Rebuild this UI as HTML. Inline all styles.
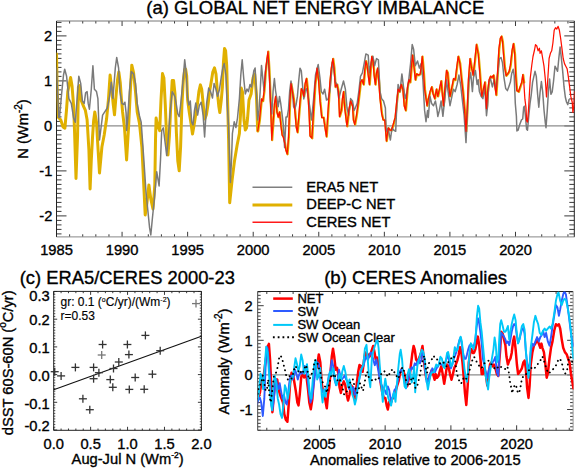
<!DOCTYPE html>
<html><head><meta charset="utf-8"><style>
html,body{margin:0;padding:0;background:#fff;}
svg{display:block;}
text{font-family:"Liberation Sans",sans-serif;fill:#000;stroke:#000;stroke-width:0.35px;}
</style></head><body>
<svg width="575" height="468" viewBox="0 0 575 468">
<rect width="575" height="468" fill="#fff"/>
<defs><clipPath id="clipA"><rect x="56.5" y="21" width="518" height="215.7"/></clipPath><clipPath id="clipB"><rect x="257.8" y="291.5" width="315.7" height="138.6"/></clipPath></defs>
<line x1="56.50" y1="236.80" x2="56.50" y2="231.80" stroke="#3a3a3a" stroke-width="1" />
<line x1="56.50" y1="21.00" x2="56.50" y2="26.00" stroke="#3a3a3a" stroke-width="1" />
<line x1="69.61" y1="236.80" x2="69.61" y2="234.30" stroke="#3a3a3a" stroke-width="1" />
<line x1="69.61" y1="21.00" x2="69.61" y2="23.50" stroke="#3a3a3a" stroke-width="1" />
<line x1="82.73" y1="236.80" x2="82.73" y2="234.30" stroke="#3a3a3a" stroke-width="1" />
<line x1="82.73" y1="21.00" x2="82.73" y2="23.50" stroke="#3a3a3a" stroke-width="1" />
<line x1="95.84" y1="236.80" x2="95.84" y2="234.30" stroke="#3a3a3a" stroke-width="1" />
<line x1="95.84" y1="21.00" x2="95.84" y2="23.50" stroke="#3a3a3a" stroke-width="1" />
<line x1="108.96" y1="236.80" x2="108.96" y2="234.30" stroke="#3a3a3a" stroke-width="1" />
<line x1="108.96" y1="21.00" x2="108.96" y2="23.50" stroke="#3a3a3a" stroke-width="1" />
<line x1="122.07" y1="236.80" x2="122.07" y2="231.80" stroke="#3a3a3a" stroke-width="1" />
<line x1="122.07" y1="21.00" x2="122.07" y2="26.00" stroke="#3a3a3a" stroke-width="1" />
<line x1="135.18" y1="236.80" x2="135.18" y2="234.30" stroke="#3a3a3a" stroke-width="1" />
<line x1="135.18" y1="21.00" x2="135.18" y2="23.50" stroke="#3a3a3a" stroke-width="1" />
<line x1="148.30" y1="236.80" x2="148.30" y2="234.30" stroke="#3a3a3a" stroke-width="1" />
<line x1="148.30" y1="21.00" x2="148.30" y2="23.50" stroke="#3a3a3a" stroke-width="1" />
<line x1="161.41" y1="236.80" x2="161.41" y2="234.30" stroke="#3a3a3a" stroke-width="1" />
<line x1="161.41" y1="21.00" x2="161.41" y2="23.50" stroke="#3a3a3a" stroke-width="1" />
<line x1="174.53" y1="236.80" x2="174.53" y2="234.30" stroke="#3a3a3a" stroke-width="1" />
<line x1="174.53" y1="21.00" x2="174.53" y2="23.50" stroke="#3a3a3a" stroke-width="1" />
<line x1="187.64" y1="236.80" x2="187.64" y2="231.80" stroke="#3a3a3a" stroke-width="1" />
<line x1="187.64" y1="21.00" x2="187.64" y2="26.00" stroke="#3a3a3a" stroke-width="1" />
<line x1="200.75" y1="236.80" x2="200.75" y2="234.30" stroke="#3a3a3a" stroke-width="1" />
<line x1="200.75" y1="21.00" x2="200.75" y2="23.50" stroke="#3a3a3a" stroke-width="1" />
<line x1="213.87" y1="236.80" x2="213.87" y2="234.30" stroke="#3a3a3a" stroke-width="1" />
<line x1="213.87" y1="21.00" x2="213.87" y2="23.50" stroke="#3a3a3a" stroke-width="1" />
<line x1="226.98" y1="236.80" x2="226.98" y2="234.30" stroke="#3a3a3a" stroke-width="1" />
<line x1="226.98" y1="21.00" x2="226.98" y2="23.50" stroke="#3a3a3a" stroke-width="1" />
<line x1="240.10" y1="236.80" x2="240.10" y2="234.30" stroke="#3a3a3a" stroke-width="1" />
<line x1="240.10" y1="21.00" x2="240.10" y2="23.50" stroke="#3a3a3a" stroke-width="1" />
<line x1="253.21" y1="236.80" x2="253.21" y2="231.80" stroke="#3a3a3a" stroke-width="1" />
<line x1="253.21" y1="21.00" x2="253.21" y2="26.00" stroke="#3a3a3a" stroke-width="1" />
<line x1="266.32" y1="236.80" x2="266.32" y2="234.30" stroke="#3a3a3a" stroke-width="1" />
<line x1="266.32" y1="21.00" x2="266.32" y2="23.50" stroke="#3a3a3a" stroke-width="1" />
<line x1="279.44" y1="236.80" x2="279.44" y2="234.30" stroke="#3a3a3a" stroke-width="1" />
<line x1="279.44" y1="21.00" x2="279.44" y2="23.50" stroke="#3a3a3a" stroke-width="1" />
<line x1="292.55" y1="236.80" x2="292.55" y2="234.30" stroke="#3a3a3a" stroke-width="1" />
<line x1="292.55" y1="21.00" x2="292.55" y2="23.50" stroke="#3a3a3a" stroke-width="1" />
<line x1="305.67" y1="236.80" x2="305.67" y2="234.30" stroke="#3a3a3a" stroke-width="1" />
<line x1="305.67" y1="21.00" x2="305.67" y2="23.50" stroke="#3a3a3a" stroke-width="1" />
<line x1="318.78" y1="236.80" x2="318.78" y2="231.80" stroke="#3a3a3a" stroke-width="1" />
<line x1="318.78" y1="21.00" x2="318.78" y2="26.00" stroke="#3a3a3a" stroke-width="1" />
<line x1="331.89" y1="236.80" x2="331.89" y2="234.30" stroke="#3a3a3a" stroke-width="1" />
<line x1="331.89" y1="21.00" x2="331.89" y2="23.50" stroke="#3a3a3a" stroke-width="1" />
<line x1="345.01" y1="236.80" x2="345.01" y2="234.30" stroke="#3a3a3a" stroke-width="1" />
<line x1="345.01" y1="21.00" x2="345.01" y2="23.50" stroke="#3a3a3a" stroke-width="1" />
<line x1="358.12" y1="236.80" x2="358.12" y2="234.30" stroke="#3a3a3a" stroke-width="1" />
<line x1="358.12" y1="21.00" x2="358.12" y2="23.50" stroke="#3a3a3a" stroke-width="1" />
<line x1="371.24" y1="236.80" x2="371.24" y2="234.30" stroke="#3a3a3a" stroke-width="1" />
<line x1="371.24" y1="21.00" x2="371.24" y2="23.50" stroke="#3a3a3a" stroke-width="1" />
<line x1="384.35" y1="236.80" x2="384.35" y2="231.80" stroke="#3a3a3a" stroke-width="1" />
<line x1="384.35" y1="21.00" x2="384.35" y2="26.00" stroke="#3a3a3a" stroke-width="1" />
<line x1="397.46" y1="236.80" x2="397.46" y2="234.30" stroke="#3a3a3a" stroke-width="1" />
<line x1="397.46" y1="21.00" x2="397.46" y2="23.50" stroke="#3a3a3a" stroke-width="1" />
<line x1="410.58" y1="236.80" x2="410.58" y2="234.30" stroke="#3a3a3a" stroke-width="1" />
<line x1="410.58" y1="21.00" x2="410.58" y2="23.50" stroke="#3a3a3a" stroke-width="1" />
<line x1="423.69" y1="236.80" x2="423.69" y2="234.30" stroke="#3a3a3a" stroke-width="1" />
<line x1="423.69" y1="21.00" x2="423.69" y2="23.50" stroke="#3a3a3a" stroke-width="1" />
<line x1="436.81" y1="236.80" x2="436.81" y2="234.30" stroke="#3a3a3a" stroke-width="1" />
<line x1="436.81" y1="21.00" x2="436.81" y2="23.50" stroke="#3a3a3a" stroke-width="1" />
<line x1="449.92" y1="236.80" x2="449.92" y2="231.80" stroke="#3a3a3a" stroke-width="1" />
<line x1="449.92" y1="21.00" x2="449.92" y2="26.00" stroke="#3a3a3a" stroke-width="1" />
<line x1="463.03" y1="236.80" x2="463.03" y2="234.30" stroke="#3a3a3a" stroke-width="1" />
<line x1="463.03" y1="21.00" x2="463.03" y2="23.50" stroke="#3a3a3a" stroke-width="1" />
<line x1="476.15" y1="236.80" x2="476.15" y2="234.30" stroke="#3a3a3a" stroke-width="1" />
<line x1="476.15" y1="21.00" x2="476.15" y2="23.50" stroke="#3a3a3a" stroke-width="1" />
<line x1="489.26" y1="236.80" x2="489.26" y2="234.30" stroke="#3a3a3a" stroke-width="1" />
<line x1="489.26" y1="21.00" x2="489.26" y2="23.50" stroke="#3a3a3a" stroke-width="1" />
<line x1="502.38" y1="236.80" x2="502.38" y2="234.30" stroke="#3a3a3a" stroke-width="1" />
<line x1="502.38" y1="21.00" x2="502.38" y2="23.50" stroke="#3a3a3a" stroke-width="1" />
<line x1="515.49" y1="236.80" x2="515.49" y2="231.80" stroke="#3a3a3a" stroke-width="1" />
<line x1="515.49" y1="21.00" x2="515.49" y2="26.00" stroke="#3a3a3a" stroke-width="1" />
<line x1="528.60" y1="236.80" x2="528.60" y2="234.30" stroke="#3a3a3a" stroke-width="1" />
<line x1="528.60" y1="21.00" x2="528.60" y2="23.50" stroke="#3a3a3a" stroke-width="1" />
<line x1="541.72" y1="236.80" x2="541.72" y2="234.30" stroke="#3a3a3a" stroke-width="1" />
<line x1="541.72" y1="21.00" x2="541.72" y2="23.50" stroke="#3a3a3a" stroke-width="1" />
<line x1="554.83" y1="236.80" x2="554.83" y2="234.30" stroke="#3a3a3a" stroke-width="1" />
<line x1="554.83" y1="21.00" x2="554.83" y2="23.50" stroke="#3a3a3a" stroke-width="1" />
<line x1="567.95" y1="236.80" x2="567.95" y2="234.30" stroke="#3a3a3a" stroke-width="1" />
<line x1="567.95" y1="21.00" x2="567.95" y2="23.50" stroke="#3a3a3a" stroke-width="1" />
<line x1="56.50" y1="233.90" x2="61.50" y2="233.90" stroke="#3a3a3a" stroke-width="1" />
<line x1="574.30" y1="233.90" x2="569.30" y2="233.90" stroke="#3a3a3a" stroke-width="1" />
<line x1="56.50" y1="229.40" x2="61.50" y2="229.40" stroke="#3a3a3a" stroke-width="1" />
<line x1="574.30" y1="229.40" x2="569.30" y2="229.40" stroke="#3a3a3a" stroke-width="1" />
<line x1="56.50" y1="224.90" x2="61.50" y2="224.90" stroke="#3a3a3a" stroke-width="1" />
<line x1="574.30" y1="224.90" x2="569.30" y2="224.90" stroke="#3a3a3a" stroke-width="1" />
<line x1="56.50" y1="220.40" x2="61.50" y2="220.40" stroke="#3a3a3a" stroke-width="1" />
<line x1="574.30" y1="220.40" x2="569.30" y2="220.40" stroke="#3a3a3a" stroke-width="1" />
<line x1="56.50" y1="215.90" x2="66.50" y2="215.90" stroke="#3a3a3a" stroke-width="1" />
<line x1="574.30" y1="215.90" x2="564.30" y2="215.90" stroke="#3a3a3a" stroke-width="1" />
<line x1="56.50" y1="211.40" x2="61.50" y2="211.40" stroke="#3a3a3a" stroke-width="1" />
<line x1="574.30" y1="211.40" x2="569.30" y2="211.40" stroke="#3a3a3a" stroke-width="1" />
<line x1="56.50" y1="206.90" x2="61.50" y2="206.90" stroke="#3a3a3a" stroke-width="1" />
<line x1="574.30" y1="206.90" x2="569.30" y2="206.90" stroke="#3a3a3a" stroke-width="1" />
<line x1="56.50" y1="202.40" x2="61.50" y2="202.40" stroke="#3a3a3a" stroke-width="1" />
<line x1="574.30" y1="202.40" x2="569.30" y2="202.40" stroke="#3a3a3a" stroke-width="1" />
<line x1="56.50" y1="197.90" x2="61.50" y2="197.90" stroke="#3a3a3a" stroke-width="1" />
<line x1="574.30" y1="197.90" x2="569.30" y2="197.90" stroke="#3a3a3a" stroke-width="1" />
<line x1="56.50" y1="193.40" x2="61.50" y2="193.40" stroke="#3a3a3a" stroke-width="1" />
<line x1="574.30" y1="193.40" x2="569.30" y2="193.40" stroke="#3a3a3a" stroke-width="1" />
<line x1="56.50" y1="188.90" x2="61.50" y2="188.90" stroke="#3a3a3a" stroke-width="1" />
<line x1="574.30" y1="188.90" x2="569.30" y2="188.90" stroke="#3a3a3a" stroke-width="1" />
<line x1="56.50" y1="184.40" x2="61.50" y2="184.40" stroke="#3a3a3a" stroke-width="1" />
<line x1="574.30" y1="184.40" x2="569.30" y2="184.40" stroke="#3a3a3a" stroke-width="1" />
<line x1="56.50" y1="179.90" x2="61.50" y2="179.90" stroke="#3a3a3a" stroke-width="1" />
<line x1="574.30" y1="179.90" x2="569.30" y2="179.90" stroke="#3a3a3a" stroke-width="1" />
<line x1="56.50" y1="175.40" x2="61.50" y2="175.40" stroke="#3a3a3a" stroke-width="1" />
<line x1="574.30" y1="175.40" x2="569.30" y2="175.40" stroke="#3a3a3a" stroke-width="1" />
<line x1="56.50" y1="170.90" x2="66.50" y2="170.90" stroke="#3a3a3a" stroke-width="1" />
<line x1="574.30" y1="170.90" x2="564.30" y2="170.90" stroke="#3a3a3a" stroke-width="1" />
<line x1="56.50" y1="166.40" x2="61.50" y2="166.40" stroke="#3a3a3a" stroke-width="1" />
<line x1="574.30" y1="166.40" x2="569.30" y2="166.40" stroke="#3a3a3a" stroke-width="1" />
<line x1="56.50" y1="161.90" x2="61.50" y2="161.90" stroke="#3a3a3a" stroke-width="1" />
<line x1="574.30" y1="161.90" x2="569.30" y2="161.90" stroke="#3a3a3a" stroke-width="1" />
<line x1="56.50" y1="157.40" x2="61.50" y2="157.40" stroke="#3a3a3a" stroke-width="1" />
<line x1="574.30" y1="157.40" x2="569.30" y2="157.40" stroke="#3a3a3a" stroke-width="1" />
<line x1="56.50" y1="152.90" x2="61.50" y2="152.90" stroke="#3a3a3a" stroke-width="1" />
<line x1="574.30" y1="152.90" x2="569.30" y2="152.90" stroke="#3a3a3a" stroke-width="1" />
<line x1="56.50" y1="148.40" x2="61.50" y2="148.40" stroke="#3a3a3a" stroke-width="1" />
<line x1="574.30" y1="148.40" x2="569.30" y2="148.40" stroke="#3a3a3a" stroke-width="1" />
<line x1="56.50" y1="143.90" x2="61.50" y2="143.90" stroke="#3a3a3a" stroke-width="1" />
<line x1="574.30" y1="143.90" x2="569.30" y2="143.90" stroke="#3a3a3a" stroke-width="1" />
<line x1="56.50" y1="139.40" x2="61.50" y2="139.40" stroke="#3a3a3a" stroke-width="1" />
<line x1="574.30" y1="139.40" x2="569.30" y2="139.40" stroke="#3a3a3a" stroke-width="1" />
<line x1="56.50" y1="134.90" x2="61.50" y2="134.90" stroke="#3a3a3a" stroke-width="1" />
<line x1="574.30" y1="134.90" x2="569.30" y2="134.90" stroke="#3a3a3a" stroke-width="1" />
<line x1="56.50" y1="130.40" x2="61.50" y2="130.40" stroke="#3a3a3a" stroke-width="1" />
<line x1="574.30" y1="130.40" x2="569.30" y2="130.40" stroke="#3a3a3a" stroke-width="1" />
<line x1="56.50" y1="125.90" x2="66.50" y2="125.90" stroke="#3a3a3a" stroke-width="1" />
<line x1="574.30" y1="125.90" x2="564.30" y2="125.90" stroke="#3a3a3a" stroke-width="1" />
<line x1="56.50" y1="121.40" x2="61.50" y2="121.40" stroke="#3a3a3a" stroke-width="1" />
<line x1="574.30" y1="121.40" x2="569.30" y2="121.40" stroke="#3a3a3a" stroke-width="1" />
<line x1="56.50" y1="116.90" x2="61.50" y2="116.90" stroke="#3a3a3a" stroke-width="1" />
<line x1="574.30" y1="116.90" x2="569.30" y2="116.90" stroke="#3a3a3a" stroke-width="1" />
<line x1="56.50" y1="112.40" x2="61.50" y2="112.40" stroke="#3a3a3a" stroke-width="1" />
<line x1="574.30" y1="112.40" x2="569.30" y2="112.40" stroke="#3a3a3a" stroke-width="1" />
<line x1="56.50" y1="107.90" x2="61.50" y2="107.90" stroke="#3a3a3a" stroke-width="1" />
<line x1="574.30" y1="107.90" x2="569.30" y2="107.90" stroke="#3a3a3a" stroke-width="1" />
<line x1="56.50" y1="103.40" x2="61.50" y2="103.40" stroke="#3a3a3a" stroke-width="1" />
<line x1="574.30" y1="103.40" x2="569.30" y2="103.40" stroke="#3a3a3a" stroke-width="1" />
<line x1="56.50" y1="98.90" x2="61.50" y2="98.90" stroke="#3a3a3a" stroke-width="1" />
<line x1="574.30" y1="98.90" x2="569.30" y2="98.90" stroke="#3a3a3a" stroke-width="1" />
<line x1="56.50" y1="94.40" x2="61.50" y2="94.40" stroke="#3a3a3a" stroke-width="1" />
<line x1="574.30" y1="94.40" x2="569.30" y2="94.40" stroke="#3a3a3a" stroke-width="1" />
<line x1="56.50" y1="89.90" x2="61.50" y2="89.90" stroke="#3a3a3a" stroke-width="1" />
<line x1="574.30" y1="89.90" x2="569.30" y2="89.90" stroke="#3a3a3a" stroke-width="1" />
<line x1="56.50" y1="85.40" x2="61.50" y2="85.40" stroke="#3a3a3a" stroke-width="1" />
<line x1="574.30" y1="85.40" x2="569.30" y2="85.40" stroke="#3a3a3a" stroke-width="1" />
<line x1="56.50" y1="80.90" x2="66.50" y2="80.90" stroke="#3a3a3a" stroke-width="1" />
<line x1="574.30" y1="80.90" x2="564.30" y2="80.90" stroke="#3a3a3a" stroke-width="1" />
<line x1="56.50" y1="76.40" x2="61.50" y2="76.40" stroke="#3a3a3a" stroke-width="1" />
<line x1="574.30" y1="76.40" x2="569.30" y2="76.40" stroke="#3a3a3a" stroke-width="1" />
<line x1="56.50" y1="71.90" x2="61.50" y2="71.90" stroke="#3a3a3a" stroke-width="1" />
<line x1="574.30" y1="71.90" x2="569.30" y2="71.90" stroke="#3a3a3a" stroke-width="1" />
<line x1="56.50" y1="67.40" x2="61.50" y2="67.40" stroke="#3a3a3a" stroke-width="1" />
<line x1="574.30" y1="67.40" x2="569.30" y2="67.40" stroke="#3a3a3a" stroke-width="1" />
<line x1="56.50" y1="62.90" x2="61.50" y2="62.90" stroke="#3a3a3a" stroke-width="1" />
<line x1="574.30" y1="62.90" x2="569.30" y2="62.90" stroke="#3a3a3a" stroke-width="1" />
<line x1="56.50" y1="58.40" x2="61.50" y2="58.40" stroke="#3a3a3a" stroke-width="1" />
<line x1="574.30" y1="58.40" x2="569.30" y2="58.40" stroke="#3a3a3a" stroke-width="1" />
<line x1="56.50" y1="53.90" x2="61.50" y2="53.90" stroke="#3a3a3a" stroke-width="1" />
<line x1="574.30" y1="53.90" x2="569.30" y2="53.90" stroke="#3a3a3a" stroke-width="1" />
<line x1="56.50" y1="49.40" x2="61.50" y2="49.40" stroke="#3a3a3a" stroke-width="1" />
<line x1="574.30" y1="49.40" x2="569.30" y2="49.40" stroke="#3a3a3a" stroke-width="1" />
<line x1="56.50" y1="44.90" x2="61.50" y2="44.90" stroke="#3a3a3a" stroke-width="1" />
<line x1="574.30" y1="44.90" x2="569.30" y2="44.90" stroke="#3a3a3a" stroke-width="1" />
<line x1="56.50" y1="40.40" x2="61.50" y2="40.40" stroke="#3a3a3a" stroke-width="1" />
<line x1="574.30" y1="40.40" x2="569.30" y2="40.40" stroke="#3a3a3a" stroke-width="1" />
<line x1="56.50" y1="35.90" x2="66.50" y2="35.90" stroke="#3a3a3a" stroke-width="1" />
<line x1="574.30" y1="35.90" x2="564.30" y2="35.90" stroke="#3a3a3a" stroke-width="1" />
<line x1="56.50" y1="31.40" x2="61.50" y2="31.40" stroke="#3a3a3a" stroke-width="1" />
<line x1="574.30" y1="31.40" x2="569.30" y2="31.40" stroke="#3a3a3a" stroke-width="1" />
<line x1="56.50" y1="26.90" x2="61.50" y2="26.90" stroke="#3a3a3a" stroke-width="1" />
<line x1="574.30" y1="26.90" x2="569.30" y2="26.90" stroke="#3a3a3a" stroke-width="1" />
<line x1="56.50" y1="22.40" x2="61.50" y2="22.40" stroke="#3a3a3a" stroke-width="1" />
<line x1="574.30" y1="22.40" x2="569.30" y2="22.40" stroke="#3a3a3a" stroke-width="1" />
<line x1="56.50" y1="125.90" x2="574.30" y2="125.90" stroke="#8c8c8c" stroke-width="1.4" />
<line x1="56.50" y1="21.00" x2="574.60" y2="21.00" stroke="#777" stroke-width="1" />
<line x1="56.50" y1="236.90" x2="574.60" y2="236.90" stroke="#888" stroke-width="1" />
<line x1="56.50" y1="21.00" x2="56.50" y2="236.80" stroke="#222" stroke-width="1" />
<line x1="574.30" y1="21.00" x2="574.30" y2="236.80" stroke="#222" stroke-width="1" />
<text transform="translate(52.30,41.10) scale(1,1.04)" font-size="14.7" text-anchor="end" >2</text>
<text transform="translate(52.30,86.10) scale(1,1.04)" font-size="14.7" text-anchor="end" >1</text>
<text transform="translate(52.30,131.10) scale(1,1.04)" font-size="14.7" text-anchor="end" >0</text>
<text transform="translate(52.30,176.10) scale(1,1.04)" font-size="14.7" text-anchor="end" >-1</text>
<text transform="translate(52.30,221.10) scale(1,1.04)" font-size="14.7" text-anchor="end" >-2</text>
<text transform="translate(56.50,254.50) scale(1,1.04)" font-size="14.7" text-anchor="middle" >1985</text>
<text transform="translate(122.07,254.50) scale(1,1.04)" font-size="14.7" text-anchor="middle" >1990</text>
<text transform="translate(187.64,254.50) scale(1,1.04)" font-size="14.7" text-anchor="middle" >1995</text>
<text transform="translate(253.21,254.50) scale(1,1.04)" font-size="14.7" text-anchor="middle" >2000</text>
<text transform="translate(318.78,254.50) scale(1,1.04)" font-size="14.7" text-anchor="middle" >2005</text>
<text transform="translate(384.35,254.50) scale(1,1.04)" font-size="14.7" text-anchor="middle" >2010</text>
<text transform="translate(449.92,254.50) scale(1,1.04)" font-size="14.7" text-anchor="middle" >2015</text>
<text transform="translate(515.49,254.50) scale(1,1.04)" font-size="14.7" text-anchor="middle" >2020</text>
<text transform="translate(315.30,13.70) scale(1,1.0)" font-size="18.5" text-anchor="middle" >(a) GLOBAL NET ENERGY IMBALANCE</text>
<text transform="translate(28.3,129) rotate(-90) scale(1,1.04)" font-size="14.7" text-anchor="middle">N (Wm<tspan font-size="10" dy="-6.3">-2</tspan><tspan dy="6.3">)</tspan></text>
<line x1="252.50" y1="187.30" x2="292.30" y2="187.30" stroke="#7f7f7f" stroke-width="1.6" />
<line x1="252.50" y1="205.00" x2="292.30" y2="205.00" stroke="#e0b000" stroke-width="3.2" />
<line x1="252.50" y1="222.30" x2="292.30" y2="222.30" stroke="#ff1a1a" stroke-width="1.6" />
<text transform="translate(306.30,191.90) scale(1,1.04)" font-size="14.7" text-anchor="start" >ERA5 NET</text>
<text transform="translate(306.30,209.30) scale(1,1.04)" font-size="14.7" text-anchor="start" >DEEP-C NET</text>
<text transform="translate(306.30,226.80) scale(1,1.04)" font-size="14.7" text-anchor="start" >CERES NET</text>
<line x1="266.80" y1="430.30" x2="266.80" y2="427.80" stroke="#3a3a3a" stroke-width="1" />
<line x1="266.80" y1="291.50" x2="266.80" y2="294.00" stroke="#3a3a3a" stroke-width="1" />
<line x1="279.95" y1="430.30" x2="279.95" y2="427.80" stroke="#3a3a3a" stroke-width="1" />
<line x1="279.95" y1="291.50" x2="279.95" y2="294.00" stroke="#3a3a3a" stroke-width="1" />
<line x1="293.10" y1="430.30" x2="293.10" y2="427.80" stroke="#3a3a3a" stroke-width="1" />
<line x1="293.10" y1="291.50" x2="293.10" y2="294.00" stroke="#3a3a3a" stroke-width="1" />
<line x1="306.25" y1="430.30" x2="306.25" y2="427.80" stroke="#3a3a3a" stroke-width="1" />
<line x1="306.25" y1="291.50" x2="306.25" y2="294.00" stroke="#3a3a3a" stroke-width="1" />
<line x1="319.40" y1="430.30" x2="319.40" y2="425.30" stroke="#3a3a3a" stroke-width="1" />
<line x1="319.40" y1="291.50" x2="319.40" y2="296.50" stroke="#3a3a3a" stroke-width="1" />
<line x1="332.55" y1="430.30" x2="332.55" y2="427.80" stroke="#3a3a3a" stroke-width="1" />
<line x1="332.55" y1="291.50" x2="332.55" y2="294.00" stroke="#3a3a3a" stroke-width="1" />
<line x1="345.70" y1="430.30" x2="345.70" y2="427.80" stroke="#3a3a3a" stroke-width="1" />
<line x1="345.70" y1="291.50" x2="345.70" y2="294.00" stroke="#3a3a3a" stroke-width="1" />
<line x1="358.85" y1="430.30" x2="358.85" y2="427.80" stroke="#3a3a3a" stroke-width="1" />
<line x1="358.85" y1="291.50" x2="358.85" y2="294.00" stroke="#3a3a3a" stroke-width="1" />
<line x1="372.00" y1="430.30" x2="372.00" y2="427.80" stroke="#3a3a3a" stroke-width="1" />
<line x1="372.00" y1="291.50" x2="372.00" y2="294.00" stroke="#3a3a3a" stroke-width="1" />
<line x1="385.15" y1="430.30" x2="385.15" y2="425.30" stroke="#3a3a3a" stroke-width="1" />
<line x1="385.15" y1="291.50" x2="385.15" y2="296.50" stroke="#3a3a3a" stroke-width="1" />
<line x1="398.30" y1="430.30" x2="398.30" y2="427.80" stroke="#3a3a3a" stroke-width="1" />
<line x1="398.30" y1="291.50" x2="398.30" y2="294.00" stroke="#3a3a3a" stroke-width="1" />
<line x1="411.45" y1="430.30" x2="411.45" y2="427.80" stroke="#3a3a3a" stroke-width="1" />
<line x1="411.45" y1="291.50" x2="411.45" y2="294.00" stroke="#3a3a3a" stroke-width="1" />
<line x1="424.60" y1="430.30" x2="424.60" y2="427.80" stroke="#3a3a3a" stroke-width="1" />
<line x1="424.60" y1="291.50" x2="424.60" y2="294.00" stroke="#3a3a3a" stroke-width="1" />
<line x1="437.75" y1="430.30" x2="437.75" y2="427.80" stroke="#3a3a3a" stroke-width="1" />
<line x1="437.75" y1="291.50" x2="437.75" y2="294.00" stroke="#3a3a3a" stroke-width="1" />
<line x1="450.90" y1="430.30" x2="450.90" y2="425.30" stroke="#3a3a3a" stroke-width="1" />
<line x1="450.90" y1="291.50" x2="450.90" y2="296.50" stroke="#3a3a3a" stroke-width="1" />
<line x1="464.05" y1="430.30" x2="464.05" y2="427.80" stroke="#3a3a3a" stroke-width="1" />
<line x1="464.05" y1="291.50" x2="464.05" y2="294.00" stroke="#3a3a3a" stroke-width="1" />
<line x1="477.20" y1="430.30" x2="477.20" y2="427.80" stroke="#3a3a3a" stroke-width="1" />
<line x1="477.20" y1="291.50" x2="477.20" y2="294.00" stroke="#3a3a3a" stroke-width="1" />
<line x1="490.35" y1="430.30" x2="490.35" y2="427.80" stroke="#3a3a3a" stroke-width="1" />
<line x1="490.35" y1="291.50" x2="490.35" y2="294.00" stroke="#3a3a3a" stroke-width="1" />
<line x1="503.50" y1="430.30" x2="503.50" y2="427.80" stroke="#3a3a3a" stroke-width="1" />
<line x1="503.50" y1="291.50" x2="503.50" y2="294.00" stroke="#3a3a3a" stroke-width="1" />
<line x1="516.65" y1="430.30" x2="516.65" y2="425.30" stroke="#3a3a3a" stroke-width="1" />
<line x1="516.65" y1="291.50" x2="516.65" y2="296.50" stroke="#3a3a3a" stroke-width="1" />
<line x1="529.80" y1="430.30" x2="529.80" y2="427.80" stroke="#3a3a3a" stroke-width="1" />
<line x1="529.80" y1="291.50" x2="529.80" y2="294.00" stroke="#3a3a3a" stroke-width="1" />
<line x1="542.95" y1="430.30" x2="542.95" y2="427.80" stroke="#3a3a3a" stroke-width="1" />
<line x1="542.95" y1="291.50" x2="542.95" y2="294.00" stroke="#3a3a3a" stroke-width="1" />
<line x1="556.10" y1="430.30" x2="556.10" y2="427.80" stroke="#3a3a3a" stroke-width="1" />
<line x1="556.10" y1="291.50" x2="556.10" y2="294.00" stroke="#3a3a3a" stroke-width="1" />
<line x1="569.25" y1="430.30" x2="569.25" y2="427.80" stroke="#3a3a3a" stroke-width="1" />
<line x1="569.25" y1="291.50" x2="569.25" y2="294.00" stroke="#3a3a3a" stroke-width="1" />
<line x1="257.70" y1="430.26" x2="260.70" y2="430.26" stroke="#3a3a3a" stroke-width="1" />
<line x1="573.10" y1="430.26" x2="570.10" y2="430.26" stroke="#3a3a3a" stroke-width="1" />
<line x1="257.70" y1="426.80" x2="260.70" y2="426.80" stroke="#3a3a3a" stroke-width="1" />
<line x1="573.10" y1="426.80" x2="570.10" y2="426.80" stroke="#3a3a3a" stroke-width="1" />
<line x1="257.70" y1="423.34" x2="260.70" y2="423.34" stroke="#3a3a3a" stroke-width="1" />
<line x1="573.10" y1="423.34" x2="570.10" y2="423.34" stroke="#3a3a3a" stroke-width="1" />
<line x1="257.70" y1="419.88" x2="260.70" y2="419.88" stroke="#3a3a3a" stroke-width="1" />
<line x1="573.10" y1="419.88" x2="570.10" y2="419.88" stroke="#3a3a3a" stroke-width="1" />
<line x1="257.70" y1="416.42" x2="260.70" y2="416.42" stroke="#3a3a3a" stroke-width="1" />
<line x1="573.10" y1="416.42" x2="570.10" y2="416.42" stroke="#3a3a3a" stroke-width="1" />
<line x1="257.70" y1="412.96" x2="260.70" y2="412.96" stroke="#3a3a3a" stroke-width="1" />
<line x1="573.10" y1="412.96" x2="570.10" y2="412.96" stroke="#3a3a3a" stroke-width="1" />
<line x1="257.70" y1="409.50" x2="263.70" y2="409.50" stroke="#3a3a3a" stroke-width="1" />
<line x1="573.10" y1="409.50" x2="567.10" y2="409.50" stroke="#3a3a3a" stroke-width="1" />
<line x1="257.70" y1="406.04" x2="260.70" y2="406.04" stroke="#3a3a3a" stroke-width="1" />
<line x1="573.10" y1="406.04" x2="570.10" y2="406.04" stroke="#3a3a3a" stroke-width="1" />
<line x1="257.70" y1="402.58" x2="260.70" y2="402.58" stroke="#3a3a3a" stroke-width="1" />
<line x1="573.10" y1="402.58" x2="570.10" y2="402.58" stroke="#3a3a3a" stroke-width="1" />
<line x1="257.70" y1="399.12" x2="260.70" y2="399.12" stroke="#3a3a3a" stroke-width="1" />
<line x1="573.10" y1="399.12" x2="570.10" y2="399.12" stroke="#3a3a3a" stroke-width="1" />
<line x1="257.70" y1="395.66" x2="260.70" y2="395.66" stroke="#3a3a3a" stroke-width="1" />
<line x1="573.10" y1="395.66" x2="570.10" y2="395.66" stroke="#3a3a3a" stroke-width="1" />
<line x1="257.70" y1="392.20" x2="260.70" y2="392.20" stroke="#3a3a3a" stroke-width="1" />
<line x1="573.10" y1="392.20" x2="570.10" y2="392.20" stroke="#3a3a3a" stroke-width="1" />
<line x1="257.70" y1="388.74" x2="260.70" y2="388.74" stroke="#3a3a3a" stroke-width="1" />
<line x1="573.10" y1="388.74" x2="570.10" y2="388.74" stroke="#3a3a3a" stroke-width="1" />
<line x1="257.70" y1="385.28" x2="260.70" y2="385.28" stroke="#3a3a3a" stroke-width="1" />
<line x1="573.10" y1="385.28" x2="570.10" y2="385.28" stroke="#3a3a3a" stroke-width="1" />
<line x1="257.70" y1="381.82" x2="260.70" y2="381.82" stroke="#3a3a3a" stroke-width="1" />
<line x1="573.10" y1="381.82" x2="570.10" y2="381.82" stroke="#3a3a3a" stroke-width="1" />
<line x1="257.70" y1="378.36" x2="260.70" y2="378.36" stroke="#3a3a3a" stroke-width="1" />
<line x1="573.10" y1="378.36" x2="570.10" y2="378.36" stroke="#3a3a3a" stroke-width="1" />
<line x1="257.70" y1="374.90" x2="263.70" y2="374.90" stroke="#3a3a3a" stroke-width="1" />
<line x1="573.10" y1="374.90" x2="567.10" y2="374.90" stroke="#3a3a3a" stroke-width="1" />
<line x1="257.70" y1="371.44" x2="260.70" y2="371.44" stroke="#3a3a3a" stroke-width="1" />
<line x1="573.10" y1="371.44" x2="570.10" y2="371.44" stroke="#3a3a3a" stroke-width="1" />
<line x1="257.70" y1="367.98" x2="260.70" y2="367.98" stroke="#3a3a3a" stroke-width="1" />
<line x1="573.10" y1="367.98" x2="570.10" y2="367.98" stroke="#3a3a3a" stroke-width="1" />
<line x1="257.70" y1="364.52" x2="260.70" y2="364.52" stroke="#3a3a3a" stroke-width="1" />
<line x1="573.10" y1="364.52" x2="570.10" y2="364.52" stroke="#3a3a3a" stroke-width="1" />
<line x1="257.70" y1="361.06" x2="260.70" y2="361.06" stroke="#3a3a3a" stroke-width="1" />
<line x1="573.10" y1="361.06" x2="570.10" y2="361.06" stroke="#3a3a3a" stroke-width="1" />
<line x1="257.70" y1="357.60" x2="260.70" y2="357.60" stroke="#3a3a3a" stroke-width="1" />
<line x1="573.10" y1="357.60" x2="570.10" y2="357.60" stroke="#3a3a3a" stroke-width="1" />
<line x1="257.70" y1="354.14" x2="260.70" y2="354.14" stroke="#3a3a3a" stroke-width="1" />
<line x1="573.10" y1="354.14" x2="570.10" y2="354.14" stroke="#3a3a3a" stroke-width="1" />
<line x1="257.70" y1="350.68" x2="260.70" y2="350.68" stroke="#3a3a3a" stroke-width="1" />
<line x1="573.10" y1="350.68" x2="570.10" y2="350.68" stroke="#3a3a3a" stroke-width="1" />
<line x1="257.70" y1="347.22" x2="260.70" y2="347.22" stroke="#3a3a3a" stroke-width="1" />
<line x1="573.10" y1="347.22" x2="570.10" y2="347.22" stroke="#3a3a3a" stroke-width="1" />
<line x1="257.70" y1="343.76" x2="260.70" y2="343.76" stroke="#3a3a3a" stroke-width="1" />
<line x1="573.10" y1="343.76" x2="570.10" y2="343.76" stroke="#3a3a3a" stroke-width="1" />
<line x1="257.70" y1="340.30" x2="263.70" y2="340.30" stroke="#3a3a3a" stroke-width="1" />
<line x1="573.10" y1="340.30" x2="567.10" y2="340.30" stroke="#3a3a3a" stroke-width="1" />
<line x1="257.70" y1="336.84" x2="260.70" y2="336.84" stroke="#3a3a3a" stroke-width="1" />
<line x1="573.10" y1="336.84" x2="570.10" y2="336.84" stroke="#3a3a3a" stroke-width="1" />
<line x1="257.70" y1="333.38" x2="260.70" y2="333.38" stroke="#3a3a3a" stroke-width="1" />
<line x1="573.10" y1="333.38" x2="570.10" y2="333.38" stroke="#3a3a3a" stroke-width="1" />
<line x1="257.70" y1="329.92" x2="260.70" y2="329.92" stroke="#3a3a3a" stroke-width="1" />
<line x1="573.10" y1="329.92" x2="570.10" y2="329.92" stroke="#3a3a3a" stroke-width="1" />
<line x1="257.70" y1="326.46" x2="260.70" y2="326.46" stroke="#3a3a3a" stroke-width="1" />
<line x1="573.10" y1="326.46" x2="570.10" y2="326.46" stroke="#3a3a3a" stroke-width="1" />
<line x1="257.70" y1="323.00" x2="260.70" y2="323.00" stroke="#3a3a3a" stroke-width="1" />
<line x1="573.10" y1="323.00" x2="570.10" y2="323.00" stroke="#3a3a3a" stroke-width="1" />
<line x1="257.70" y1="319.54" x2="260.70" y2="319.54" stroke="#3a3a3a" stroke-width="1" />
<line x1="573.10" y1="319.54" x2="570.10" y2="319.54" stroke="#3a3a3a" stroke-width="1" />
<line x1="257.70" y1="316.08" x2="260.70" y2="316.08" stroke="#3a3a3a" stroke-width="1" />
<line x1="573.10" y1="316.08" x2="570.10" y2="316.08" stroke="#3a3a3a" stroke-width="1" />
<line x1="257.70" y1="312.62" x2="260.70" y2="312.62" stroke="#3a3a3a" stroke-width="1" />
<line x1="573.10" y1="312.62" x2="570.10" y2="312.62" stroke="#3a3a3a" stroke-width="1" />
<line x1="257.70" y1="309.16" x2="260.70" y2="309.16" stroke="#3a3a3a" stroke-width="1" />
<line x1="573.10" y1="309.16" x2="570.10" y2="309.16" stroke="#3a3a3a" stroke-width="1" />
<line x1="257.70" y1="305.70" x2="263.70" y2="305.70" stroke="#3a3a3a" stroke-width="1" />
<line x1="573.10" y1="305.70" x2="567.10" y2="305.70" stroke="#3a3a3a" stroke-width="1" />
<line x1="257.70" y1="302.24" x2="260.70" y2="302.24" stroke="#3a3a3a" stroke-width="1" />
<line x1="573.10" y1="302.24" x2="570.10" y2="302.24" stroke="#3a3a3a" stroke-width="1" />
<line x1="257.70" y1="298.78" x2="260.70" y2="298.78" stroke="#3a3a3a" stroke-width="1" />
<line x1="573.10" y1="298.78" x2="570.10" y2="298.78" stroke="#3a3a3a" stroke-width="1" />
<line x1="257.70" y1="295.32" x2="260.70" y2="295.32" stroke="#3a3a3a" stroke-width="1" />
<line x1="573.10" y1="295.32" x2="570.10" y2="295.32" stroke="#3a3a3a" stroke-width="1" />
<line x1="257.70" y1="291.86" x2="260.70" y2="291.86" stroke="#3a3a3a" stroke-width="1" />
<line x1="573.10" y1="291.86" x2="570.10" y2="291.86" stroke="#3a3a3a" stroke-width="1" />
<line x1="257.70" y1="374.90" x2="573.10" y2="374.90" stroke="#8c8c8c" stroke-width="1.4" />
<line x1="257.70" y1="291.50" x2="573.10" y2="291.50" stroke="#222" stroke-width="1" />
<line x1="257.70" y1="430.30" x2="573.10" y2="430.30" stroke="#444" stroke-width="1" />
<line x1="257.70" y1="291.50" x2="257.70" y2="430.30" stroke="#444" stroke-width="1" />
<line x1="573.10" y1="291.50" x2="573.10" y2="430.30" stroke="#999" stroke-width="1" />
<text transform="translate(252.70,310.90) scale(1,1.04)" font-size="14.7" text-anchor="end" >2</text>
<text transform="translate(252.70,345.50) scale(1,1.04)" font-size="14.7" text-anchor="end" >1</text>
<text transform="translate(252.70,380.10) scale(1,1.04)" font-size="14.7" text-anchor="end" >0</text>
<text transform="translate(252.70,414.70) scale(1,1.04)" font-size="14.7" text-anchor="end" >-1</text>
<text transform="translate(319.40,448.70) scale(1,1.04)" font-size="14.7" text-anchor="middle" >2005</text>
<text transform="translate(385.15,448.70) scale(1,1.04)" font-size="14.7" text-anchor="middle" >2010</text>
<text transform="translate(450.90,448.70) scale(1,1.04)" font-size="14.7" text-anchor="middle" >2015</text>
<text transform="translate(516.65,448.70) scale(1,1.04)" font-size="14.7" text-anchor="middle" >2020</text>
<text transform="translate(415.60,284.00) scale(1,1.0)" font-size="18.6" text-anchor="middle" >(b) CERES Anomalies</text>
<text transform="translate(415.30,464.60) scale(1,1.04)" font-size="14.7" text-anchor="middle" >Anomalies relative to 2006-2015</text>
<text transform="translate(229,361.5) rotate(-90) scale(1,1.04)" font-size="14.7" text-anchor="middle">Anomaly (Wm<tspan font-size="10" dy="-6.3">-2</tspan><tspan dy="6.3">)</tspan></text>
<line x1="273.20" y1="298.60" x2="292.80" y2="298.60" stroke="#ff0000" stroke-width="2.5" />
<line x1="273.20" y1="311.00" x2="292.80" y2="311.00" stroke="#2e5bff" stroke-width="2.0" />
<line x1="273.20" y1="324.90" x2="292.80" y2="324.90" stroke="#00c8f8" stroke-width="2.0" />
<line x1="272.90" y1="337.20" x2="294.00" y2="337.20" stroke="#000" stroke-width="2.0" stroke-dasharray="1.8 3"/>
<text transform="translate(297.40,302.80) scale(1,1.04)" font-size="13" text-anchor="start" >NET</text>
<text transform="translate(297.40,315.50) scale(1,1.04)" font-size="13" text-anchor="start" >SW</text>
<text transform="translate(297.40,329.00) scale(1,1.04)" font-size="13" text-anchor="start" >SW Ocean</text>
<text transform="translate(297.40,341.50) scale(1,1.04)" font-size="13" text-anchor="start" >SW Ocean Clear</text>
<line x1="53.70" y1="430.30" x2="53.70" y2="426.80" stroke="#3a3a3a" stroke-width="1" />
<line x1="53.70" y1="291.40" x2="53.70" y2="294.90" stroke="#3a3a3a" stroke-width="1" />
<line x1="61.09" y1="430.30" x2="61.09" y2="428.50" stroke="#3a3a3a" stroke-width="1" />
<line x1="61.09" y1="291.40" x2="61.09" y2="293.20" stroke="#3a3a3a" stroke-width="1" />
<line x1="68.47" y1="430.30" x2="68.47" y2="428.50" stroke="#3a3a3a" stroke-width="1" />
<line x1="68.47" y1="291.40" x2="68.47" y2="293.20" stroke="#3a3a3a" stroke-width="1" />
<line x1="75.86" y1="430.30" x2="75.86" y2="428.50" stroke="#3a3a3a" stroke-width="1" />
<line x1="75.86" y1="291.40" x2="75.86" y2="293.20" stroke="#3a3a3a" stroke-width="1" />
<line x1="83.24" y1="430.30" x2="83.24" y2="428.50" stroke="#3a3a3a" stroke-width="1" />
<line x1="83.24" y1="291.40" x2="83.24" y2="293.20" stroke="#3a3a3a" stroke-width="1" />
<line x1="90.62" y1="430.30" x2="90.62" y2="426.80" stroke="#3a3a3a" stroke-width="1" />
<line x1="90.62" y1="291.40" x2="90.62" y2="294.90" stroke="#3a3a3a" stroke-width="1" />
<line x1="98.01" y1="430.30" x2="98.01" y2="428.50" stroke="#3a3a3a" stroke-width="1" />
<line x1="98.01" y1="291.40" x2="98.01" y2="293.20" stroke="#3a3a3a" stroke-width="1" />
<line x1="105.39" y1="430.30" x2="105.39" y2="428.50" stroke="#3a3a3a" stroke-width="1" />
<line x1="105.39" y1="291.40" x2="105.39" y2="293.20" stroke="#3a3a3a" stroke-width="1" />
<line x1="112.78" y1="430.30" x2="112.78" y2="428.50" stroke="#3a3a3a" stroke-width="1" />
<line x1="112.78" y1="291.40" x2="112.78" y2="293.20" stroke="#3a3a3a" stroke-width="1" />
<line x1="120.17" y1="430.30" x2="120.17" y2="428.50" stroke="#3a3a3a" stroke-width="1" />
<line x1="120.17" y1="291.40" x2="120.17" y2="293.20" stroke="#3a3a3a" stroke-width="1" />
<line x1="127.55" y1="430.30" x2="127.55" y2="426.80" stroke="#3a3a3a" stroke-width="1" />
<line x1="127.55" y1="291.40" x2="127.55" y2="294.90" stroke="#3a3a3a" stroke-width="1" />
<line x1="134.94" y1="430.30" x2="134.94" y2="428.50" stroke="#3a3a3a" stroke-width="1" />
<line x1="134.94" y1="291.40" x2="134.94" y2="293.20" stroke="#3a3a3a" stroke-width="1" />
<line x1="142.32" y1="430.30" x2="142.32" y2="428.50" stroke="#3a3a3a" stroke-width="1" />
<line x1="142.32" y1="291.40" x2="142.32" y2="293.20" stroke="#3a3a3a" stroke-width="1" />
<line x1="149.70" y1="430.30" x2="149.70" y2="428.50" stroke="#3a3a3a" stroke-width="1" />
<line x1="149.70" y1="291.40" x2="149.70" y2="293.20" stroke="#3a3a3a" stroke-width="1" />
<line x1="157.09" y1="430.30" x2="157.09" y2="428.50" stroke="#3a3a3a" stroke-width="1" />
<line x1="157.09" y1="291.40" x2="157.09" y2="293.20" stroke="#3a3a3a" stroke-width="1" />
<line x1="164.47" y1="430.30" x2="164.47" y2="426.80" stroke="#3a3a3a" stroke-width="1" />
<line x1="164.47" y1="291.40" x2="164.47" y2="294.90" stroke="#3a3a3a" stroke-width="1" />
<line x1="171.86" y1="430.30" x2="171.86" y2="428.50" stroke="#3a3a3a" stroke-width="1" />
<line x1="171.86" y1="291.40" x2="171.86" y2="293.20" stroke="#3a3a3a" stroke-width="1" />
<line x1="179.25" y1="430.30" x2="179.25" y2="428.50" stroke="#3a3a3a" stroke-width="1" />
<line x1="179.25" y1="291.40" x2="179.25" y2="293.20" stroke="#3a3a3a" stroke-width="1" />
<line x1="186.63" y1="430.30" x2="186.63" y2="428.50" stroke="#3a3a3a" stroke-width="1" />
<line x1="186.63" y1="291.40" x2="186.63" y2="293.20" stroke="#3a3a3a" stroke-width="1" />
<line x1="194.01" y1="430.30" x2="194.01" y2="428.50" stroke="#3a3a3a" stroke-width="1" />
<line x1="194.01" y1="291.40" x2="194.01" y2="293.20" stroke="#3a3a3a" stroke-width="1" />
<line x1="201.40" y1="430.30" x2="201.40" y2="426.80" stroke="#3a3a3a" stroke-width="1" />
<line x1="201.40" y1="291.40" x2="201.40" y2="294.90" stroke="#3a3a3a" stroke-width="1" />
<line x1="53.70" y1="430.00" x2="57.20" y2="430.00" stroke="#3a3a3a" stroke-width="1" />
<line x1="201.40" y1="430.00" x2="197.90" y2="430.00" stroke="#3a3a3a" stroke-width="1" />
<line x1="53.70" y1="427.23" x2="55.30" y2="427.23" stroke="#555" stroke-width="1" />
<line x1="201.40" y1="427.23" x2="199.80" y2="427.23" stroke="#555" stroke-width="1" />
<line x1="53.70" y1="424.46" x2="55.30" y2="424.46" stroke="#555" stroke-width="1" />
<line x1="201.40" y1="424.46" x2="199.80" y2="424.46" stroke="#555" stroke-width="1" />
<line x1="53.70" y1="421.69" x2="55.30" y2="421.69" stroke="#555" stroke-width="1" />
<line x1="201.40" y1="421.69" x2="199.80" y2="421.69" stroke="#555" stroke-width="1" />
<line x1="53.70" y1="418.92" x2="55.30" y2="418.92" stroke="#555" stroke-width="1" />
<line x1="201.40" y1="418.92" x2="199.80" y2="418.92" stroke="#555" stroke-width="1" />
<line x1="53.70" y1="416.15" x2="55.30" y2="416.15" stroke="#555" stroke-width="1" />
<line x1="201.40" y1="416.15" x2="199.80" y2="416.15" stroke="#555" stroke-width="1" />
<line x1="53.70" y1="413.38" x2="55.30" y2="413.38" stroke="#555" stroke-width="1" />
<line x1="201.40" y1="413.38" x2="199.80" y2="413.38" stroke="#555" stroke-width="1" />
<line x1="53.70" y1="410.61" x2="55.30" y2="410.61" stroke="#555" stroke-width="1" />
<line x1="201.40" y1="410.61" x2="199.80" y2="410.61" stroke="#555" stroke-width="1" />
<line x1="53.70" y1="407.84" x2="55.30" y2="407.84" stroke="#555" stroke-width="1" />
<line x1="201.40" y1="407.84" x2="199.80" y2="407.84" stroke="#555" stroke-width="1" />
<line x1="53.70" y1="405.07" x2="55.30" y2="405.07" stroke="#555" stroke-width="1" />
<line x1="201.40" y1="405.07" x2="199.80" y2="405.07" stroke="#555" stroke-width="1" />
<line x1="53.70" y1="402.30" x2="57.20" y2="402.30" stroke="#3a3a3a" stroke-width="1" />
<line x1="201.40" y1="402.30" x2="197.90" y2="402.30" stroke="#3a3a3a" stroke-width="1" />
<line x1="53.70" y1="399.53" x2="55.30" y2="399.53" stroke="#555" stroke-width="1" />
<line x1="201.40" y1="399.53" x2="199.80" y2="399.53" stroke="#555" stroke-width="1" />
<line x1="53.70" y1="396.76" x2="55.30" y2="396.76" stroke="#555" stroke-width="1" />
<line x1="201.40" y1="396.76" x2="199.80" y2="396.76" stroke="#555" stroke-width="1" />
<line x1="53.70" y1="393.99" x2="55.30" y2="393.99" stroke="#555" stroke-width="1" />
<line x1="201.40" y1="393.99" x2="199.80" y2="393.99" stroke="#555" stroke-width="1" />
<line x1="53.70" y1="391.22" x2="55.30" y2="391.22" stroke="#555" stroke-width="1" />
<line x1="201.40" y1="391.22" x2="199.80" y2="391.22" stroke="#555" stroke-width="1" />
<line x1="53.70" y1="388.45" x2="55.30" y2="388.45" stroke="#555" stroke-width="1" />
<line x1="201.40" y1="388.45" x2="199.80" y2="388.45" stroke="#555" stroke-width="1" />
<line x1="53.70" y1="385.68" x2="55.30" y2="385.68" stroke="#555" stroke-width="1" />
<line x1="201.40" y1="385.68" x2="199.80" y2="385.68" stroke="#555" stroke-width="1" />
<line x1="53.70" y1="382.91" x2="55.30" y2="382.91" stroke="#555" stroke-width="1" />
<line x1="201.40" y1="382.91" x2="199.80" y2="382.91" stroke="#555" stroke-width="1" />
<line x1="53.70" y1="380.14" x2="55.30" y2="380.14" stroke="#555" stroke-width="1" />
<line x1="201.40" y1="380.14" x2="199.80" y2="380.14" stroke="#555" stroke-width="1" />
<line x1="53.70" y1="377.37" x2="55.30" y2="377.37" stroke="#555" stroke-width="1" />
<line x1="201.40" y1="377.37" x2="199.80" y2="377.37" stroke="#555" stroke-width="1" />
<line x1="53.70" y1="374.60" x2="57.20" y2="374.60" stroke="#3a3a3a" stroke-width="1" />
<line x1="201.40" y1="374.60" x2="197.90" y2="374.60" stroke="#3a3a3a" stroke-width="1" />
<line x1="53.70" y1="371.83" x2="55.30" y2="371.83" stroke="#555" stroke-width="1" />
<line x1="201.40" y1="371.83" x2="199.80" y2="371.83" stroke="#555" stroke-width="1" />
<line x1="53.70" y1="369.06" x2="55.30" y2="369.06" stroke="#555" stroke-width="1" />
<line x1="201.40" y1="369.06" x2="199.80" y2="369.06" stroke="#555" stroke-width="1" />
<line x1="53.70" y1="366.29" x2="55.30" y2="366.29" stroke="#555" stroke-width="1" />
<line x1="201.40" y1="366.29" x2="199.80" y2="366.29" stroke="#555" stroke-width="1" />
<line x1="53.70" y1="363.52" x2="55.30" y2="363.52" stroke="#555" stroke-width="1" />
<line x1="201.40" y1="363.52" x2="199.80" y2="363.52" stroke="#555" stroke-width="1" />
<line x1="53.70" y1="360.75" x2="55.30" y2="360.75" stroke="#555" stroke-width="1" />
<line x1="201.40" y1="360.75" x2="199.80" y2="360.75" stroke="#555" stroke-width="1" />
<line x1="53.70" y1="357.98" x2="55.30" y2="357.98" stroke="#555" stroke-width="1" />
<line x1="201.40" y1="357.98" x2="199.80" y2="357.98" stroke="#555" stroke-width="1" />
<line x1="53.70" y1="355.21" x2="55.30" y2="355.21" stroke="#555" stroke-width="1" />
<line x1="201.40" y1="355.21" x2="199.80" y2="355.21" stroke="#555" stroke-width="1" />
<line x1="53.70" y1="352.44" x2="55.30" y2="352.44" stroke="#555" stroke-width="1" />
<line x1="201.40" y1="352.44" x2="199.80" y2="352.44" stroke="#555" stroke-width="1" />
<line x1="53.70" y1="349.67" x2="55.30" y2="349.67" stroke="#555" stroke-width="1" />
<line x1="201.40" y1="349.67" x2="199.80" y2="349.67" stroke="#555" stroke-width="1" />
<line x1="53.70" y1="346.90" x2="57.20" y2="346.90" stroke="#3a3a3a" stroke-width="1" />
<line x1="201.40" y1="346.90" x2="197.90" y2="346.90" stroke="#3a3a3a" stroke-width="1" />
<line x1="53.70" y1="344.13" x2="55.30" y2="344.13" stroke="#555" stroke-width="1" />
<line x1="201.40" y1="344.13" x2="199.80" y2="344.13" stroke="#555" stroke-width="1" />
<line x1="53.70" y1="341.36" x2="55.30" y2="341.36" stroke="#555" stroke-width="1" />
<line x1="201.40" y1="341.36" x2="199.80" y2="341.36" stroke="#555" stroke-width="1" />
<line x1="53.70" y1="338.59" x2="55.30" y2="338.59" stroke="#555" stroke-width="1" />
<line x1="201.40" y1="338.59" x2="199.80" y2="338.59" stroke="#555" stroke-width="1" />
<line x1="53.70" y1="335.82" x2="55.30" y2="335.82" stroke="#555" stroke-width="1" />
<line x1="201.40" y1="335.82" x2="199.80" y2="335.82" stroke="#555" stroke-width="1" />
<line x1="53.70" y1="333.05" x2="55.30" y2="333.05" stroke="#555" stroke-width="1" />
<line x1="201.40" y1="333.05" x2="199.80" y2="333.05" stroke="#555" stroke-width="1" />
<line x1="53.70" y1="330.28" x2="55.30" y2="330.28" stroke="#555" stroke-width="1" />
<line x1="201.40" y1="330.28" x2="199.80" y2="330.28" stroke="#555" stroke-width="1" />
<line x1="53.70" y1="327.51" x2="55.30" y2="327.51" stroke="#555" stroke-width="1" />
<line x1="201.40" y1="327.51" x2="199.80" y2="327.51" stroke="#555" stroke-width="1" />
<line x1="53.70" y1="324.74" x2="55.30" y2="324.74" stroke="#555" stroke-width="1" />
<line x1="201.40" y1="324.74" x2="199.80" y2="324.74" stroke="#555" stroke-width="1" />
<line x1="53.70" y1="321.97" x2="55.30" y2="321.97" stroke="#555" stroke-width="1" />
<line x1="201.40" y1="321.97" x2="199.80" y2="321.97" stroke="#555" stroke-width="1" />
<line x1="53.70" y1="319.20" x2="57.20" y2="319.20" stroke="#3a3a3a" stroke-width="1" />
<line x1="201.40" y1="319.20" x2="197.90" y2="319.20" stroke="#3a3a3a" stroke-width="1" />
<line x1="53.70" y1="316.43" x2="55.30" y2="316.43" stroke="#555" stroke-width="1" />
<line x1="201.40" y1="316.43" x2="199.80" y2="316.43" stroke="#555" stroke-width="1" />
<line x1="53.70" y1="313.66" x2="55.30" y2="313.66" stroke="#555" stroke-width="1" />
<line x1="201.40" y1="313.66" x2="199.80" y2="313.66" stroke="#555" stroke-width="1" />
<line x1="53.70" y1="310.89" x2="55.30" y2="310.89" stroke="#555" stroke-width="1" />
<line x1="201.40" y1="310.89" x2="199.80" y2="310.89" stroke="#555" stroke-width="1" />
<line x1="53.70" y1="308.12" x2="55.30" y2="308.12" stroke="#555" stroke-width="1" />
<line x1="201.40" y1="308.12" x2="199.80" y2="308.12" stroke="#555" stroke-width="1" />
<line x1="53.70" y1="305.35" x2="55.30" y2="305.35" stroke="#555" stroke-width="1" />
<line x1="201.40" y1="305.35" x2="199.80" y2="305.35" stroke="#555" stroke-width="1" />
<line x1="53.70" y1="302.58" x2="55.30" y2="302.58" stroke="#555" stroke-width="1" />
<line x1="201.40" y1="302.58" x2="199.80" y2="302.58" stroke="#555" stroke-width="1" />
<line x1="53.70" y1="299.81" x2="55.30" y2="299.81" stroke="#555" stroke-width="1" />
<line x1="201.40" y1="299.81" x2="199.80" y2="299.81" stroke="#555" stroke-width="1" />
<line x1="53.70" y1="297.04" x2="55.30" y2="297.04" stroke="#555" stroke-width="1" />
<line x1="201.40" y1="297.04" x2="199.80" y2="297.04" stroke="#555" stroke-width="1" />
<line x1="53.70" y1="294.27" x2="55.30" y2="294.27" stroke="#555" stroke-width="1" />
<line x1="201.40" y1="294.27" x2="199.80" y2="294.27" stroke="#555" stroke-width="1" />
<line x1="53.70" y1="291.50" x2="57.20" y2="291.50" stroke="#3a3a3a" stroke-width="1" />
<line x1="201.40" y1="291.50" x2="197.90" y2="291.50" stroke="#3a3a3a" stroke-width="1" />
<line x1="53.70" y1="291.40" x2="201.40" y2="291.40" stroke="#222" stroke-width="1" />
<line x1="53.70" y1="430.30" x2="201.40" y2="430.30" stroke="#222" stroke-width="1" />
<line x1="53.70" y1="291.40" x2="53.70" y2="430.30" stroke="#222" stroke-width="1" />
<line x1="201.40" y1="291.40" x2="201.40" y2="430.30" stroke="#222" stroke-width="1" />
<text transform="translate(49.70,300.50) scale(1,1.04)" font-size="14.7" text-anchor="end" >0.3</text>
<text transform="translate(49.70,325.10) scale(1,1.04)" font-size="14.7" text-anchor="end" >0.2</text>
<text transform="translate(49.70,353.40) scale(1,1.04)" font-size="14.7" text-anchor="end" >0.1</text>
<text transform="translate(49.70,380.80) scale(1,1.04)" font-size="14.7" text-anchor="end" >0.0</text>
<text transform="translate(49.70,409.20) scale(1,1.04)" font-size="14.7" text-anchor="end" >-0.1</text>
<text transform="translate(49.70,431.00) scale(1,1.04)" font-size="14.7" text-anchor="end" >-0.2</text>
<text transform="translate(53.70,448.60) scale(1,1.04)" font-size="14.7" text-anchor="middle" >0.0</text>
<text transform="translate(90.62,448.60) scale(1,1.04)" font-size="14.7" text-anchor="middle" >0.5</text>
<text transform="translate(127.55,448.60) scale(1,1.04)" font-size="14.7" text-anchor="middle" >1.0</text>
<text transform="translate(164.47,448.60) scale(1,1.04)" font-size="14.7" text-anchor="middle" >1.5</text>
<text transform="translate(201.40,448.60) scale(1,1.04)" font-size="14.7" text-anchor="middle" >2.0</text>
<text transform="translate(127.30,283.80) scale(1,1.0)" font-size="18.35" text-anchor="middle" >(c) ERA5/CERES 2000-23</text>
<text transform="translate(127.6,464.4) scale(1,1.04)" font-size="14.7" text-anchor="middle">Aug-Jul N (Wm<tspan font-size="8.5" dy="-6.5">-2</tspan><tspan dy="6.5">)</tspan></text>
<text transform="translate(12.8,362.8) rotate(-90) scale(1,1.04)" font-size="14.7" text-anchor="middle">dSST 60S-60N (<tspan font-size="10" dy="-6.3">o</tspan><tspan dy="6.3">C/yr)</tspan></text>
<text transform="translate(60.5,306.3) scale(1,1.04)" font-size="12" style="stroke-width:0.15px">gr: 0.1 (<tspan font-size="7" dy="-4.2">o</tspan><tspan dy="4.2">C/yr)/(Wm</tspan><tspan font-size="7" dy="-4.2">-2</tspan><tspan dy="4.2">)</tspan></text>
<text transform="translate(60.5,319.5) scale(1,1.04)" font-size="12" style="stroke-width:0.15px">r=0.53</text>
<line x1="53.70" y1="389.80" x2="201.40" y2="336.30" stroke="#111" stroke-width="1.1" />
<line x1="50.70" y1="371.70" x2="58.70" y2="371.70" stroke="#333" stroke-width="1.3" />
<line x1="54.70" y1="367.70" x2="54.70" y2="375.70" stroke="#333" stroke-width="1.3" />
<line x1="57.10" y1="375.90" x2="65.10" y2="375.90" stroke="#333" stroke-width="1.3" />
<line x1="61.10" y1="371.90" x2="61.10" y2="379.90" stroke="#333" stroke-width="1.3" />
<line x1="71.40" y1="367.40" x2="79.40" y2="367.40" stroke="#333" stroke-width="1.3" />
<line x1="75.40" y1="363.40" x2="75.40" y2="371.40" stroke="#333" stroke-width="1.3" />
<line x1="78.90" y1="398.80" x2="86.90" y2="398.80" stroke="#333" stroke-width="1.3" />
<line x1="82.90" y1="394.80" x2="82.90" y2="402.80" stroke="#333" stroke-width="1.3" />
<line x1="85.80" y1="409.70" x2="93.80" y2="409.70" stroke="#333" stroke-width="1.3" />
<line x1="89.80" y1="405.70" x2="89.80" y2="413.70" stroke="#333" stroke-width="1.3" />
<line x1="89.60" y1="367.40" x2="97.60" y2="367.40" stroke="#333" stroke-width="1.3" />
<line x1="93.60" y1="363.40" x2="93.60" y2="371.40" stroke="#333" stroke-width="1.3" />
<line x1="89.60" y1="378.70" x2="97.60" y2="378.70" stroke="#333" stroke-width="1.3" />
<line x1="93.60" y1="374.70" x2="93.60" y2="382.70" stroke="#333" stroke-width="1.3" />
<line x1="94.90" y1="372.70" x2="102.90" y2="372.70" stroke="#333" stroke-width="1.3" />
<line x1="98.90" y1="368.70" x2="98.90" y2="376.70" stroke="#333" stroke-width="1.3" />
<line x1="97.70" y1="355.00" x2="105.70" y2="355.00" stroke="#777" stroke-width="1.3" />
<line x1="101.70" y1="351.00" x2="101.70" y2="359.00" stroke="#777" stroke-width="1.3" />
<line x1="98.60" y1="344.50" x2="106.60" y2="344.50" stroke="#333" stroke-width="1.3" />
<line x1="102.60" y1="340.50" x2="102.60" y2="348.50" stroke="#333" stroke-width="1.3" />
<line x1="106.30" y1="379.60" x2="114.30" y2="379.60" stroke="#333" stroke-width="1.3" />
<line x1="110.30" y1="375.60" x2="110.30" y2="383.60" stroke="#333" stroke-width="1.3" />
<line x1="108.80" y1="387.30" x2="116.80" y2="387.30" stroke="#333" stroke-width="1.3" />
<line x1="112.80" y1="383.30" x2="112.80" y2="391.30" stroke="#333" stroke-width="1.3" />
<line x1="109.50" y1="368.50" x2="117.50" y2="368.50" stroke="#333" stroke-width="1.3" />
<line x1="113.50" y1="364.50" x2="113.50" y2="372.50" stroke="#333" stroke-width="1.3" />
<line x1="114.80" y1="362.00" x2="122.80" y2="362.00" stroke="#333" stroke-width="1.3" />
<line x1="118.80" y1="358.00" x2="118.80" y2="366.00" stroke="#333" stroke-width="1.3" />
<line x1="123.40" y1="344.50" x2="131.40" y2="344.50" stroke="#333" stroke-width="1.3" />
<line x1="127.40" y1="340.50" x2="127.40" y2="348.50" stroke="#333" stroke-width="1.3" />
<line x1="124.90" y1="354.60" x2="132.90" y2="354.60" stroke="#333" stroke-width="1.3" />
<line x1="128.90" y1="350.60" x2="128.90" y2="358.60" stroke="#333" stroke-width="1.3" />
<line x1="125.30" y1="389.40" x2="133.30" y2="389.40" stroke="#333" stroke-width="1.3" />
<line x1="129.30" y1="385.40" x2="129.30" y2="393.40" stroke="#333" stroke-width="1.3" />
<line x1="131.20" y1="377.50" x2="139.20" y2="377.50" stroke="#333" stroke-width="1.3" />
<line x1="135.20" y1="373.50" x2="135.20" y2="381.50" stroke="#333" stroke-width="1.3" />
<line x1="141.40" y1="335.40" x2="149.40" y2="335.40" stroke="#333" stroke-width="1.3" />
<line x1="145.40" y1="331.40" x2="145.40" y2="339.40" stroke="#333" stroke-width="1.3" />
<line x1="148.40" y1="374.20" x2="156.40" y2="374.20" stroke="#333" stroke-width="1.3" />
<line x1="152.40" y1="370.20" x2="152.40" y2="378.20" stroke="#333" stroke-width="1.3" />
<line x1="156.20" y1="350.70" x2="164.20" y2="350.70" stroke="#333" stroke-width="1.3" />
<line x1="160.20" y1="346.70" x2="160.20" y2="354.70" stroke="#333" stroke-width="1.3" />
<line x1="140.20" y1="389.30" x2="148.20" y2="389.30" stroke="#333" stroke-width="1.3" />
<line x1="144.20" y1="385.30" x2="144.20" y2="393.30" stroke="#333" stroke-width="1.3" />
<line x1="192.00" y1="303.60" x2="200.00" y2="303.60" stroke="#777" stroke-width="1.3" />
<line x1="196.00" y1="299.60" x2="196.00" y2="307.60" stroke="#777" stroke-width="1.3" />
<g clip-path="url(#clipA)">
<polyline points="56.5,54.0 57.2,91.6 58.4,117.5 60.7,119.8 63.1,127.0 64.9,128.2 66.5,110.0 67.8,91.6 70.6,77.5 72.0,85.7 73.6,105.7 74.5,130.0 76.0,178.5 77.6,135.0 78.4,86.9 79.5,85.7 81.4,101.0 83.8,106.9 85.4,110.4 87.1,119.8 88.9,150.0 90.1,189.0 91.3,160.0 92.5,137.6 93.6,121.0 94.8,112.0 96.5,122.0 97.8,145.0 99.5,173.0 101.9,147.0 104.2,135.0 106.6,118.8 108.4,100.0 110.1,75.1 111.8,90.0 113.2,104.0 114.5,114.8 116.1,95.0 117.5,80.0 118.8,72.0 120.3,83.0 121.4,98.6 122.6,112.0 124.5,128.0 126.6,160.0 128.7,125.0 130.5,88.0 131.8,65.2 133.6,72.8 135.5,91.6 137.2,112.0 139.5,123.5 141.9,147.0 144.0,190.0 145.2,215.0 146.8,204.0 148.9,185.0 150.8,199.0 153.0,209.0 154.8,185.0 155.5,140.0 156.1,118.0 157.5,125.0 159.7,130.6 161.0,100.0 162.5,73.6 163.9,78.0 165.3,105.0 166.7,139.0 168.0,155.0 169.4,136.0 170.8,105.0 172.2,80.6 173.6,80.6 175.0,94.0 176.4,133.0 177.8,161.0 179.2,170.8 180.6,147.0 181.9,105.0 183.3,80.6 184.7,69.4 185.6,69.0 186.7,76.0 187.6,99.8 189.3,112.6 191.0,123.3 192.5,134.0 194.0,125.5 195.7,114.8 197.4,104.1 198.9,91.3 200.4,84.9 201.7,89.1 203.2,104.1 204.7,119.1 206.4,114.8 208.1,104.1 209.6,91.3 211.1,82.7 212.8,72.1 214.5,67.8 216.0,74.2 217.5,93.4 218.8,106.2 219.8,112.6 221.3,99.8 222.4,87.0 223.5,61.4 224.5,48.5 225.6,50.7 226.7,65.6 227.7,104.1 228.6,140.0 229.7,202.8 232.1,180.0 234.5,160.9 237.1,145.3 239.4,133.5 240.5,115.0 241.2,88.0 242.5,92.0 244.0,120.0 245.3,130.0 246.5,128.0 247.6,118.0 249.0,100.0 251.1,94.0 253.0,78.0 253.8,75.9 254.7,74.0 256.4,95.0 257.7,131.0" fill="none" stroke="#e0b000" stroke-width="3.0" stroke-linejoin="round" stroke-linecap="round" />
<polyline points="258.1,131.2 259.9,120.2 261.9,99.2 263.2,101.2 264.5,91.2 265.8,73.2 267.1,60.7 268.4,51.7 269.6,71.2 270.9,104.2 272.2,140.2 273.5,122.2 274.8,104.2 276.0,96.6 277.3,112.2 278.6,117.2 279.9,112.2 281.2,125.2 282.5,135.2 283.7,137.2 285.0,142.8 286.3,150.5 287.6,154.3 288.9,137.2 290.1,104.2 291.4,83.8 292.7,91.2 294.0,99.2 295.3,112.2 296.6,127.2 297.8,132.5 299.1,117.2 300.4,101.7 301.7,88.9 303.0,91.2 304.2,96.6 305.5,83.8 306.8,78.7 308.1,91.2 309.4,112.2 310.4,136.1 312.3,138.4 313.9,110.2 315.4,85.2 317.5,68.3 318.9,80.2 320.4,101.2 322.1,117.6 323.9,117.7 325.6,129.4 326.8,136.7 328.6,108.2 330.3,82.2 331.7,68.2 333.3,58.8 334.5,68.2 335.7,87.1 337.4,84.7 338.8,91.8 339.9,116.7 341.8,110.2 342.8,98.8 343.9,91.8 345.1,108.2 346.8,122.4 347.4,126.3 349.2,110.2 351.0,101.2 352.9,105.9 353.8,120.2 355.2,124.7 356.9,115.2 358.5,103.6 359.9,91.8 360.9,82.4 362.3,80.0 363.9,84.7 365.1,70.6 366.3,61.2 367.5,65.9 368.6,75.3 369.8,84.7 371.0,68.3 372.2,56.5 373.4,61.2 374.5,75.3 375.7,84.7 376.9,73.0 378.0,68.3 379.2,82.4 380.4,98.8 382.1,114.1 383.5,120.0 385.1,120.2 386.8,141.1 388.7,128.2 390.4,130.2 391.7,130.6 393.4,125.2 395.5,117.6 396.9,103.6 398.5,89.4 399.9,91.8 401.6,84.7 403.2,89.4 404.6,105.9 406.0,110.6 407.9,87.1 409.3,80.0 410.5,82.4 411.7,68.3 412.9,55.3 414.0,63.6 415.7,80.0 417.0,74.1 418.9,75.3 420.6,74.1 421.7,65.9 422.6,56.5 424.0,73.0 425.0,89.4 426.4,98.8 427.4,105.9 428.8,98.8 430.4,91.8 432.0,87.1 433.5,94.2 435.1,98.8 436.8,89.4 438.2,96.5 439.8,89.4 441.5,81.2 442.9,96.5 443.8,105.9 445.2,89.4 446.9,70.6 448.0,73.0 449.2,87.1 450.4,96.5 452.3,87.1 453.9,78.8 455.6,80.0 457.0,68.3 458.6,56.5 460.3,63.6 461.7,77.7 463.3,91.8 465.0,110.6 466.4,131.5 467.3,115.3 468.8,80.0 470.4,58.8 472.0,68.3 473.5,75.3 475.1,61.2 476.8,44.7 478.6,54.2 479.8,68.3 481.0,84.7 482.2,96.5 483.8,89.4 485.2,82.4 486.9,108.9 488.0,91.8 489.5,80.0 490.9,76.5 492.3,77.7 493.9,75.3 495.1,84.7 496.5,95.1 498.0,71.6 499.3,49.1 500.7,38.5 501.8,36.4 502.9,41.7 503.9,54.5 505.0,67.3 506.5,75.9 508.2,73.8 509.5,71.6 510.8,65.2 512.5,50.2 513.8,43.8 515.1,54.5 516.1,75.9 517.2,90.8 518.9,91.9 520.6,86.6 522.1,82.3 523.2,74.8 524.2,82.3" fill="none" stroke="#e0b000" stroke-width="2.2" stroke-linejoin="round" stroke-linecap="round" />
<polyline points="56.5,68.0 57.5,90.0 58.8,117.5 59.5,117.6 61.5,95.0 63.5,75.0 64.7,69.2 66.6,76.3 68.9,98.6 71.3,103.4 73.6,118.0 75.3,122.2 77.0,100.0 78.8,76.3 80.7,83.4 82.4,101.0 84.2,103.4 85.6,92.8 87.1,91.6 88.2,103.4 89.4,109.2 91.3,89.2 92.9,65.7 94.4,89.2 96.5,91.6 97.9,98.6 98.7,120.0 99.5,140.0 101.0,128.0 102.6,115.1 104.9,111.6 107.3,108.0 109.6,96.3 111.3,82.2 112.9,98.6 115.3,68.0 116.7,57.5 118.6,68.0 120.0,91.6 121.9,103.4 123.5,104.5 124.9,102.2 126.1,112.8 126.6,130.6 127.5,122.0 129.4,91.6 131.3,71.6 133.6,73.9 135.5,83.4 137.2,103.4 139.5,116.0 141.2,122.2 143.6,156.1 146.0,192.0 148.0,212.0 149.6,227.9 150.8,235.0 152.4,218.3 154.5,198.0 156.7,171.7 159.1,186.0 160.5,160.0 161.7,130.6 163.3,127.8 165.3,144.0 166.7,155.6 168.0,142.0 170.0,114.0 172.2,91.7 173.6,94.0 175.0,97.0 176.4,105.0 177.8,114.0 179.2,116.7 180.6,105.0 182.8,83.0 184.7,59.7 186.1,72.0 187.5,97.0 188.9,105.0 190.3,101.0 191.7,122.2 193.0,125.0 194.4,111.0 195.8,103.0 197.6,115.1 199.3,105.7 201.2,102.2 203.1,115.1 204.6,137.0 206.6,103.4 208.7,88.1 210.6,91.6 212.5,98.0 214.1,83.4 216.0,89.5 217.6,96.3 219.5,89.2 221.2,77.5 222.8,68.1 224.2,63.4 225.9,75.1 227.0,100.0 228.5,125.0 230.4,182.4 231.5,160.0 232.4,133.5 234.2,121.8 235.9,127.6 237.5,118.0 239.4,98.6 240.8,75.0 242.2,59.8 243.7,78.0 245.3,94.0 247.0,89.0 248.4,91.6 250.0,84.5 251.5,87.0 253.8,70.8 255.1,68.0 256.4,91.0 257.7,120.0 259.0,110.0 260.2,91.0 261.5,65.6 262.8,78.5 264.1,91.0 265.4,71.0 266.7,63.0 268.0,55.4 269.2,71.0 270.5,101.5 271.8,114.0 273.1,91.0 274.4,78.5 275.6,91.0 276.9,99.0 278.2,106.7 279.5,96.4 280.8,104.0 282.1,114.4 283.3,124.6 284.6,147.6 286.0,117.0 287.2,117.0 288.5,109.0 289.7,91.0 291.0,81.0 292.3,91.0 293.6,106.7 294.9,109.0 296.2,104.0 297.4,96.4 298.7,81.0 300.0,68.2 301.3,70.8 302.6,86.0 303.8,99.0 305.1,91.0 306.4,88.7 307.7,93.8 309.0,101.5 310.5,113.0 311.5,120.0 313.5,100.0 315.5,75.0 318.2,64.5 319.9,77.5 321.3,91.6 323.0,94.0 324.6,89.2 326.5,100.0 328.2,99.0 329.9,91.0 331.3,75.0 332.2,62.2 333.6,68.0 335.3,82.0 336.9,84.5 338.8,98.6 341.2,89.2 343.5,81.0 345.4,89.2 347.0,108.0 348.7,115.1 350.6,98.6 352.5,101.0 354.1,110.4 355.3,108.0 357.2,103.4 358.8,91.6 360.5,76.3 362.4,72.8 364.2,63.4 365.9,53.9 368.2,55.1 369.4,72.8 371.3,62.2 372.9,56.3 374.6,65.7 376.5,58.6 378.4,59.8 380.0,91.6 381.6,98.6 383.5,101.0 385.4,108.0 386.1,131.3 388.0,128.0 390.4,140.0 392.0,128.0 393.6,130.0 395.7,131.3 396.5,112.0 398.1,84.5 400.0,91.6 401.9,73.9 403.5,86.9 405.2,98.6 407.1,91.6 408.9,78.6 410.6,63.4 412.2,44.5 413.6,49.2 415.3,65.7 417.5,61.0 419.4,68.1 421.3,63.4 422.9,79.8 424.6,110.4 426.0,121.7 427.6,110.4 428.3,117.4 430.0,96.3 431.6,103.4 433.5,105.7 435.4,101.0 437.1,110.4 437.8,116.5 439.4,110.4 441.1,101.0 442.9,116.3 444.8,98.6 446.5,79.8 448.1,91.6 450.0,105.7 451.9,96.3 453.5,89.2 455.2,91.6 457.1,84.5 458.9,75.1 460.6,84.5 462.2,98.6 464.1,115.1 466.0,142.6 467.0,120.0 468.8,82.2 470.7,72.8 472.4,91.6 473.5,77.5 475.4,70.4 477.1,84.5 478.2,79.8 479.4,91.6 481.1,96.3 482.9,98.6 484.8,86.9 486.5,115.7 487.6,105.7 488.8,82.2 490.5,78.6 492.4,86.9 494.2,79.8 495.9,91.6 497.5,75.1 499.4,58.6 501.0,57.5 502.5,62.9 504.0,77.8 505.7,88.5 507.4,90.6 508.9,86.4 510.4,82.1 511.7,73.6 513.2,69.3 514.2,75.7 515.3,103.5 516.4,116.3 516.9,131.0 518.1,130.2 519.8,124.2 521.5,119.9 522.7,119.0 523.7,107.1 524.4,106.2 525.4,115.6 526.6,129.3 527.5,130.2 528.8,115.6 530.0,103.7 531.2,95.1 532.6,82.1 535.0,71.3 536.3,76.4 537.6,94.3 538.8,107.2 540.1,92.0 541.4,81.5 542.7,92.0 544.0,110.0 545.3,122.6 546.0,127.7 547.3,110.0 548.4,92.0 549.6,79.0 550.9,94.3 552.2,92.0 553.5,81.5 555.0,66.2 556.3,68.7 557.6,71.3 558.8,58.5 560.1,46.9 561.4,58.5 562.7,71.3 564.0,86.7 565.3,97.0 566.5,102.0 567.8,104.6 569.1,99.5" fill="none" stroke="#7a7a7a" stroke-width="1.5" stroke-linejoin="round" stroke-linecap="round" />
<polyline points="257.7,131.0 259.5,120.0 261.5,99.0 262.8,101.0 264.1,91.0 265.4,73.0 266.7,60.5 268.0,51.5 269.2,71.0 270.5,104.0 271.8,140.0 273.1,122.0 274.4,104.0 275.6,96.4 276.9,112.0 278.2,117.0 279.5,112.0 280.8,125.0 282.1,135.0 283.3,137.0 284.6,142.6 285.9,150.3 287.2,154.1 288.5,137.0 289.7,104.0 291.0,83.6 292.3,91.0 293.6,99.0 294.9,112.0 296.2,127.0 297.4,132.3 298.7,117.0 300.0,101.5 301.3,88.7 302.6,91.0 303.8,96.4 305.1,83.6 306.4,78.5 307.7,91.0 309.0,112.0 310.0,135.9 311.9,138.2 313.5,110.0 315.0,85.0 317.1,68.1 318.5,80.0 320.0,101.0 321.7,117.4 323.5,117.5 325.2,129.2 326.4,136.5 328.2,108.0 329.9,82.0 331.3,68.0 332.9,58.6 334.1,68.0 335.3,86.9 337.0,84.5 338.4,91.6 339.5,116.5 341.4,110.0 342.4,98.6 343.5,91.6 344.7,108.0 346.4,122.2 347.0,126.1 348.8,110.0 350.6,101.0 352.5,105.7 353.4,120.0 354.8,124.5 356.5,115.0 358.1,103.4 359.5,91.6 360.5,82.2 361.9,79.8 363.5,84.5 364.7,70.4 365.9,61.0 367.1,65.7 368.2,75.1 369.4,84.5 370.6,68.1 371.8,56.3 373.0,61.0 374.1,75.1 375.3,84.5 376.5,72.8 377.6,68.1 378.8,82.2 380.0,98.6 381.7,113.9 383.1,119.8 384.7,120.0 386.4,140.9 388.3,128.0 390.0,130.0 391.3,130.4 393.0,125.0 395.1,117.4 396.5,103.4 398.1,89.2 399.5,91.6 401.2,84.5 402.8,89.2 404.2,105.7 405.6,110.4 407.5,86.9 408.9,79.8 410.1,82.2 411.3,68.1 412.5,55.1 413.6,63.4 415.3,79.8 416.6,73.9 418.5,75.1 420.2,73.9 421.3,65.7 422.2,56.3 423.6,72.8 424.6,89.2 426.0,98.6 427.0,105.7 428.4,98.6 430.0,91.6 431.6,86.9 433.1,94.0 434.7,98.6 436.4,89.2 437.8,96.3 439.4,89.2 441.1,81.0 442.5,96.3 443.4,105.7 444.8,89.2 446.5,70.4 447.6,72.8 448.8,86.9 450.0,96.3 451.9,86.9 453.5,78.6 455.2,79.8 456.6,68.1 458.2,56.3 459.9,63.4 461.3,77.5 462.9,91.6 464.6,110.4 466.0,131.3 466.9,115.1 468.4,79.8 470.0,58.6 471.6,68.1 473.1,75.1 474.7,61.0 476.4,44.5 478.2,54.0 479.4,68.1 480.6,84.5 481.8,96.3 483.4,89.2 484.8,82.2 486.5,108.7 487.6,91.6 489.1,79.8 490.5,76.3 491.9,77.5 493.5,75.1 494.7,84.5 496.1,94.9 497.6,71.4 498.9,48.9 500.3,38.3 501.4,36.2 502.5,41.5 503.5,54.3 504.6,67.1 506.1,75.7 507.8,73.6 509.1,71.4 510.4,65.0 512.1,50.0 513.4,43.6 514.7,54.3 515.7,75.7 516.8,90.6 518.5,91.7 520.2,86.4 521.7,82.1 522.8,74.6 523.8,82.1 524.9,99.2 526.0,107.7 526.6,120.8 527.5,122.0 528.6,108.0 530.3,77.8 531.8,65.0 533.0,56.5 534.5,50.0 535.5,44.6 536.8,46.0 538.1,50.8 539.4,48.2 540.1,53.3 541.4,50.8 542.7,58.5 544.0,66.2 545.3,79.0 546.5,96.9 547.8,79.0 549.1,58.5 550.4,53.3 551.7,50.8 552.9,43.0 554.2,30.3 555.5,27.7 556.8,29.0 558.1,26.4 559.4,30.3 560.6,38.0 561.9,48.2 563.2,58.5 564.5,63.6 565.8,66.2 567.1,68.7 568.3,76.4 569.6,86.7 570.9,96.9 572.2,102.0 572.9,112.3 573.8,107.0 574.5,91.8" fill="none" stroke="#ff1000" stroke-width="1.25" stroke-linejoin="round" stroke-linecap="round" />
</g>
<g clip-path="url(#clipB)">
<polyline points="257.0,402.5 258.5,396.8 259.9,392.9 261.8,379.5 263.7,375.6 265.7,360.2 267.6,346.8 268.9,343.9 270.1,360.2 271.4,389.1 272.4,412.2 273.9,394.8 275.3,379.5 277.2,379.5 278.5,389.1 280.1,394.8 281.6,398.7 283.0,402.5 284.3,414.1 285.8,419.8 287.4,421.8 288.7,404.5 290.1,383.3 291.6,372.7 293.2,375.6 294.5,383.3 295.8,391.0 297.4,402.5 298.5,405.4 299.7,394.8 301.2,377.5 302.8,372.7 304.1,377.5 305.5,375.6 306.6,377.5 308.0,389.1 309.3,402.5 310.8,409.3 312.4,398.7 313.7,379.5 315.1,364.1 316.8,367.9 318.8,354.5 320.3,362.2 321.7,383.3 323.0,391.0 324.5,394.8 326.1,404.5 326.8,408.3 328.0,394.8 329.3,387.2 330.7,369.8 331.8,356.4 333.0,348.7 334.2,356.4 335.7,369.8 337.0,367.9 338.4,373.7 339.5,387.2 340.9,392.9 342.2,385.2 343.8,381.4 345.3,385.2 346.7,394.8 348.0,400.6 349.5,394.8 351.1,385.2 352.4,387.2 353.8,394.8 355.3,398.7 356.8,383.3 358.2,371.8 359.5,365.0 361.1,366.0 362.6,371.8 364.0,360.2 365.3,352.5 366.8,356.4 368.4,354.5 369.7,356.4 371.9,349.8 373.2,346.0 374.4,351.8 375.7,359.5 377.1,357.5 378.6,365.2 379.6,374.8 380.9,384.5 382.5,394.1 384.0,397.9 385.3,397.9 386.7,405.6 387.8,409.5 389.2,401.8 390.5,403.7 391.7,399.8 393.0,397.9 394.4,394.1 395.9,390.2 397.5,384.5 398.8,380.6 400.2,372.9 401.7,369.1 403.2,371.0 404.6,374.8 405.9,382.5 407.1,386.4 408.4,380.6 409.8,374.8 410.9,365.2 412.3,353.7 413.6,346.0 414.8,349.8 416.1,359.5 417.5,361.4 418.6,359.5 420.0,355.6 421.3,351.8 422.5,346.0 423.8,359.5 425.2,371.0 426.3,378.7 428.8,379.8 430.4,374.1 431.7,370.2 433.1,374.1 434.6,379.8 435.6,374.1 436.9,377.9 438.5,376.0 440.0,370.2 441.3,366.4 442.7,374.1 444.2,383.7 445.8,374.1 447.1,364.5 448.5,366.4 450.0,374.1 451.5,379.8 452.9,374.1 454.2,368.3 455.8,364.5 457.3,360.6 458.7,354.8 460.0,347.2 461.2,351.0 462.5,362.5 463.8,377.9 465.0,393.3 466.3,405.0 467.7,385.6 468.8,362.5 470.2,352.9 471.5,349.1 472.7,352.9 474.0,352.9 475.4,349.1 476.5,343.3 477.9,336.6 479.2,345.2 480.4,358.7 481.7,374.1 482.9,374.1 484.2,368.3 485.8,374.1 487.3,385.6 488.7,374.1 490.0,364.5 491.2,362.5 492.5,366.4 493.8,364.5 495.4,368.3 496.9,374.1 498.3,376.0 499.2,362.5 500.2,349.1 501.2,331.8 502.7,333.7 504.0,339.5 505.4,345.2 506.5,356.8 507.9,364.5 509.2,360.6 510.4,358.7 511.7,352.9 513.1,341.4 514.2,336.6 515.6,349.1 516.9,364.5 518.1,374.1 519.4,372.2 520.8,370.2 521.9,368.3 523.3,362.5 524.6,360.6 525.8,368.3 527.1,387.5 528.5,397.9 529.6,385.6 530.7,364.9 532.4,352.1 533.9,345.7 535.4,343.6 537.1,339.3 538.8,343.6 540.3,347.8 541.4,343.6 542.4,347.8 543.9,352.1 545.2,362.8 546.7,377.7 547.8,373.5 549.5,358.5 551.0,347.8 552.5,341.4 554.2,330.7 555.9,324.3 557.4,325.4 558.9,324.3 560.2,328.6 561.7,339.3 563.2,347.8 564.9,352.1 566.6,354.2 568.1,358.5 569.6,362.8 570.9,373.5 572.4,382.0 573.4,388.4" fill="none" stroke="#ff0000" stroke-width="2.5" stroke-linejoin="round" stroke-linecap="round" />
<polyline points="257.0,404.5 258.5,398.7 259.9,397.7 261.2,402.5 262.8,416.0 264.3,398.7 265.7,364.1 266.6,346.8 267.6,348.7 268.9,364.1 270.1,379.5 271.4,404.5 272.4,410.2 273.9,398.7 275.3,383.3 276.2,379.5 277.2,385.2 278.5,389.1 279.7,383.3 281.0,391.0 282.4,398.7 283.9,394.8 285.5,402.5 286.8,404.5 288.2,392.9 289.7,379.5 291.2,375.6 292.6,379.5 293.9,375.6 295.1,369.8 296.4,373.7 297.8,379.5 298.9,375.6 300.3,371.8 301.6,373.7 303.2,371.8 304.7,366.0 306.0,370.8 307.4,377.5 308.9,391.0 310.5,402.5 311.8,398.7 313.2,389.1 314.7,377.5 315.9,364.1 317.2,362.2 318.8,364.1 320.3,379.5 321.7,389.1 323.0,392.0 324.5,392.9 326.1,389.1 327.4,385.2 328.8,375.6 330.3,371.8 331.8,360.2 333.2,366.0 334.5,379.5 336.1,385.2 337.6,379.5 339.0,369.8 340.3,375.6 341.8,379.5 343.4,377.5 344.7,375.6 346.1,379.5 347.6,381.4 349.2,389.1 350.5,387.2 351.8,391.0 353.4,387.2 354.9,394.8 356.3,392.9 357.6,387.2 359.2,379.5 360.7,371.8 362.0,367.9 363.4,366.0 364.9,360.2 366.5,356.4 367.8,360.2 369.2,356.4 370.7,352.5 371.9,353.7 373.2,359.5 374.8,365.2 376.3,359.5 377.7,367.2 379.0,374.8 380.5,382.5 382.1,386.4 383.4,388.3 384.8,390.2 386.3,394.1 387.8,386.4 389.2,390.2 390.5,397.9 391.7,401.8 393.0,396.0 394.4,390.2 395.9,388.3 397.5,382.5 398.8,374.8 400.2,371.0 401.7,369.1 403.2,374.8 404.6,382.5 405.9,388.3 407.5,382.5 409.0,376.8 410.3,371.0 411.7,367.2 413.2,369.1 414.8,363.3 416.1,365.2 417.5,361.4 418.6,359.5 420.0,363.3 421.3,359.5 422.5,351.8 423.8,355.6 425.2,371.0 426.7,382.5 427.9,381.8 429.2,376.0 430.8,372.2 432.3,368.3 433.7,370.2 435.0,372.2 436.5,368.3 438.1,366.4 439.4,362.5 440.8,364.5 442.3,364.5 443.8,366.4 445.2,362.5 446.5,358.7 448.1,354.8 449.6,364.5 451.0,368.3 452.3,364.5 453.8,358.7 455.4,354.8 456.7,351.0 458.1,345.2 459.6,339.5 460.6,337.5 461.9,345.2 463.1,352.9 464.4,358.7 465.8,358.7 466.9,354.8 468.3,349.1 469.6,345.2 471.2,345.2 472.7,347.2 474.0,345.2 475.4,339.5 476.5,327.9 477.9,318.3 478.8,320.2 479.8,327.9 480.8,335.6 481.7,343.3 482.9,358.7 484.2,364.5 485.8,372.2 487.3,377.9 488.7,370.2 490.0,366.4 491.2,364.5 492.5,362.5 493.8,360.6 495.4,356.8 496.9,372.2 498.3,376.0 499.2,358.7 500.2,343.3 501.2,332.7 502.7,334.7 504.0,336.6 505.4,339.5 506.5,343.3 507.9,341.4 509.2,345.2 510.4,339.5 511.7,331.8 513.1,326.0 514.2,324.1 515.6,326.0 516.5,333.7 518.1,343.3 519.4,339.5 520.8,333.7 521.9,329.8 523.3,327.9 524.6,333.7 525.8,351.0 527.1,362.5 528.5,372.2 529.6,364.5 530.7,352.1 532.4,343.6 533.9,345.7 535.4,341.4 537.1,337.1 538.8,341.4 540.3,337.1 541.8,335.0 543.1,330.7 544.6,337.1 546.1,332.9 547.8,341.4 549.5,345.7 551.0,337.1 552.5,326.5 554.2,315.8 555.9,305.1 557.4,307.2 558.9,315.8 560.2,309.4 561.7,300.8 563.2,294.4 564.4,291.2 565.9,294.4 567.4,305.1 569.1,317.9 570.9,332.9 572.4,341.4 573.4,345.7" fill="none" stroke="#2e5bff" stroke-width="1.9" stroke-linejoin="round" stroke-linecap="round" />
<polyline points="257.0,402.5 258.9,392.9 260.5,373.7 261.8,377.5 263.2,389.1 264.7,366.0 266.2,346.8 267.6,352.5 268.9,371.8 270.5,398.7 272.0,410.2 273.3,385.2 274.7,375.6 276.2,383.3 277.8,398.7 279.1,404.5 280.5,414.1 282.0,417.9 283.5,402.5 284.9,385.2 286.2,389.1 287.8,398.7 289.3,389.1 290.7,379.5 292.6,377.5 293.9,369.8 295.5,358.3 297.0,364.1 298.3,371.8 299.7,366.0 301.2,354.5 302.6,360.2 304.1,373.7 305.5,369.8 307.0,364.1 308.5,379.5 309.9,394.8 311.2,398.7 312.8,379.5 314.3,364.1 315.9,360.2 317.2,379.5 318.8,375.6 320.3,367.9 321.7,394.8 322.6,402.5 324.2,389.1 325.5,396.8 326.8,389.1 328.4,379.5 329.9,371.8 331.3,375.6 332.6,367.9 333.8,369.8 335.1,381.4 336.5,385.2 338.0,379.5 339.5,373.7 340.9,381.4 342.2,371.8 343.8,366.0 345.3,371.8 346.7,379.5 348.0,387.2 349.5,379.5 351.1,387.2 352.4,394.8 353.8,398.7 354.9,404.5 356.3,398.7 357.6,389.1 359.2,379.5 360.7,371.8 362.0,367.9 363.4,364.1 364.9,348.7 366.5,344.8 367.8,360.2 369.2,379.5 370.3,387.2 371.9,357.5 373.2,351.8 374.8,346.0 376.3,342.2 377.5,340.2 378.6,347.9 379.6,363.3 380.9,378.7 382.1,394.1 382.8,401.8 384.0,388.3 385.3,378.7 386.7,388.3 388.2,397.9 389.8,401.8 391.1,405.6 392.5,397.9 394.0,392.2 395.5,401.8 396.9,384.5 398.2,369.1 399.8,353.7 400.7,349.8 402.1,359.5 403.2,374.8 404.6,386.4 405.9,388.3 407.5,374.8 409.0,369.1 410.3,372.9 411.7,382.5 412.8,378.7 414.2,367.2 415.2,392.2 416.1,378.7 417.5,365.2 419.0,359.5 420.5,353.7 421.9,349.8 423.2,351.8 424.8,359.5 426.3,378.7 427.9,389.5 429.2,381.8 430.8,374.1 432.3,372.2 433.7,372.2 435.0,368.3 436.2,364.5 437.5,366.4 438.8,364.5 440.4,356.8 441.9,358.7 443.3,366.4 444.6,368.3 445.8,360.6 447.1,352.9 448.1,352.0 449.6,358.7 451.0,366.4 452.3,364.5 453.8,354.8 454.8,347.2 456.2,351.0 457.7,349.1 459.2,341.4 460.6,336.6 461.9,341.4 463.1,354.8 464.4,368.3 465.8,377.9 466.9,381.8 468.3,368.3 469.6,352.9 470.8,343.3 472.1,345.2 473.5,349.1 474.6,345.2 476.0,331.8 476.9,316.4 478.1,305.8 479.2,308.7 480.4,322.2 481.7,331.8 482.9,345.2 484.2,358.7 485.4,374.1 486.7,381.8 488.1,389.5 489.2,377.9 490.6,368.3 491.9,358.7 493.5,349.1 494.6,337.5 495.8,345.2 496.9,362.5 498.3,358.7 499.2,339.5 500.2,324.1 501.2,320.2 502.7,326.0 504.0,331.8 505.4,331.8 506.5,329.8 507.9,326.0 509.2,339.5 510.4,331.8 511.7,324.1 513.1,318.3 514.2,314.5 515.6,320.2 516.5,329.8 518.1,343.3 519.4,339.5 520.8,331.8 521.9,326.0 523.3,324.1 524.6,329.8 525.8,349.1 527.1,366.4 528.5,377.9 529.6,368.3 530.7,347.8 532.4,335.0 533.9,322.2 535.4,315.8 536.7,320.1 538.2,324.3 539.7,332.9 541.4,335.0 543.1,330.7 544.6,328.6 546.1,330.7 547.8,328.6 549.5,326.5 551.0,328.6 552.5,324.3 554.2,313.6 555.9,300.8 557.4,294.4 558.5,292.3 560.2,300.8 561.7,305.1 563.2,300.8 564.4,298.7 565.9,299.8 567.4,306.2 569.1,315.8 570.9,330.7 572.4,350.0 573.4,358.5" fill="none" stroke="#00c8f8" stroke-width="1.9" stroke-linejoin="round" stroke-linecap="round" />
<polyline points="257.0,398.7 258.5,389.1 259.9,385.2 261.2,383.3 262.8,375.6 264.3,383.3 265.7,391.0 267.0,389.1 268.2,379.5 269.5,396.8 270.8,402.5 272.4,389.1 273.9,375.6 275.3,373.7 276.6,371.8 277.8,366.0 279.1,358.3 280.5,355.4 282.0,358.3 283.5,364.1 284.9,369.8 286.2,375.6 287.8,379.5 289.3,375.6 291.2,379.5 292.6,375.6 293.9,369.8 295.5,366.0 297.4,369.8 298.9,371.8 300.3,373.7 301.6,369.8 303.2,371.8 304.7,367.9 306.0,365.0 307.4,369.8 308.9,379.5 310.5,377.5 311.8,373.7 313.2,369.8 314.7,360.2 315.9,360.2 317.2,362.2 318.8,367.9 320.3,371.8 321.7,379.5 323.0,383.3 324.2,385.2 325.5,387.2 326.8,392.9 328.4,387.2 329.9,381.4 331.3,375.6 332.6,377.5 334.2,373.7 335.7,377.5 337.0,379.5 338.4,381.4 339.9,379.5 341.5,385.2 342.8,389.1 344.2,394.8 345.7,392.9 347.2,391.0 348.6,389.1 349.9,383.3 351.5,379.5 353.0,379.5 354.3,385.2 355.7,389.1 357.2,392.9 358.8,389.1 360.1,383.3 361.5,387.2 363.0,391.0 364.5,383.3 365.9,375.6 367.2,371.8 368.8,377.5 370.3,379.5 372.8,380.6 374.8,378.7 376.7,380.6 378.6,378.7 380.5,374.8 382.5,372.9 384.0,371.0 385.3,372.0 386.7,374.8 388.2,376.8 389.8,372.9 391.1,371.0 392.5,369.1 394.0,372.0 395.5,372.9 396.9,376.8 398.2,378.7 399.8,374.8 401.3,369.1 402.7,367.2 404.0,371.0 405.5,378.7 407.1,382.5 408.4,386.4 409.8,384.5 411.3,378.7 412.8,376.8 414.2,382.5 415.5,388.3 417.1,386.4 418.6,380.6 420.0,374.8 421.3,367.2 422.8,359.5 424.4,355.6 425.7,367.2 427.1,372.9 427.9,366.4 429.2,362.5 430.8,360.6 432.3,358.7 433.7,355.8 435.0,358.7 436.5,358.7 438.1,360.6 439.4,362.5 440.8,364.5 442.3,363.5 443.8,362.5 445.2,364.5 446.5,366.4 448.1,362.5 449.6,360.6 451.0,358.7 452.3,356.8 453.8,355.8 455.4,362.5 456.7,372.2 458.1,377.9 459.6,381.8 461.2,383.7 462.5,379.8 463.8,377.9 465.4,379.8 466.9,377.9 468.3,374.1 469.6,370.2 471.2,364.5 472.7,358.7 474.0,356.8 475.4,358.7 476.9,362.5 478.5,364.5 479.8,367.3 481.2,368.3 482.9,366.4 484.2,363.5 485.8,362.5 487.3,361.6 488.7,360.6 490.0,362.5 491.5,364.5 493.1,366.4 494.4,368.3 495.8,366.4 497.3,367.3 498.8,368.3 500.2,366.4 501.5,367.3 503.1,368.3 504.6,369.3 506.0,368.3 507.3,366.4 508.8,372.2 510.2,383.0 511.2,387.4 512.2,393.4 513.2,388.9 514.3,386.0 515.4,384.4 516.6,387.4 517.2,390.4 518.1,393.4 519.9,390.4 520.7,386.0 521.7,380.0 522.9,377.0 524.1,374.7 526.2,374.1 527.7,372.2 529.0,370.2 530.4,368.3 530.7,367.1 532.4,369.2 533.9,369.2 535.4,367.1 537.1,364.9 538.8,362.8 540.3,360.6 541.4,358.5 542.4,356.4 543.9,360.6 545.2,364.9 546.7,369.2 548.2,373.5 549.9,372.4 551.6,371.3 553.1,369.2 554.6,367.1 556.3,364.9 558.0,360.6 559.5,358.5 561.0,360.6 562.3,364.9 563.8,371.3 565.3,373.5 567.0,371.3 568.7,358.5 570.2,356.4 571.7,360.6 573.4,364.9" fill="none" stroke="#000" stroke-width="1.9" stroke-linejoin="round" stroke-linecap="round" stroke-dasharray="0.1 4.7" />
</g>
</svg></body></html>
